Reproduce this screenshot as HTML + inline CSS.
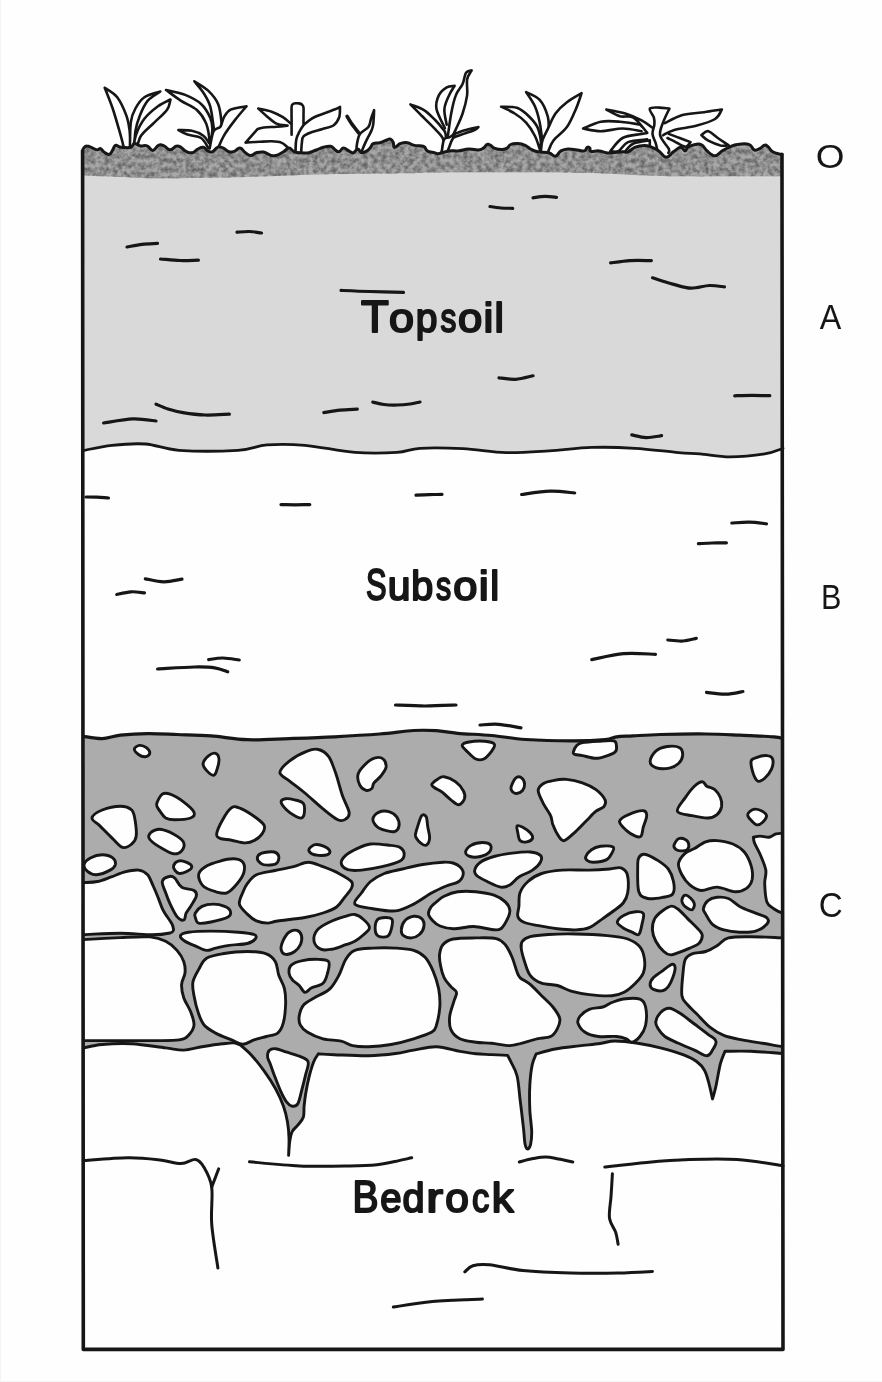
<!DOCTYPE html>
<html><head><meta charset="utf-8"><title>Soil profile</title>
<style>html,body{margin:0;padding:0;background:#fff;}body{width:882px;height:1382px;overflow:hidden;}svg{display:block;}text{font-family:"Liberation Sans",sans-serif;fill:#161616;}.b{font-weight:normal;stroke:#161616;stroke-width:2.0px;stroke-linejoin:round;paint-order:stroke;}</style></head><body>
<svg width="882" height="1382" viewBox="0 0 882 1382">
<defs>
<clipPath id="box"><rect x="83.3" y="100" width="699.7" height="1249.4"/></clipPath>
<filter id="speck" x="0" y="0" width="100%" height="100%" color-interpolation-filters="sRGB"><feTurbulence type="fractalNoise" baseFrequency="0.22" numOctaves="3" seed="11" result="n"/><feColorMatrix in="n" type="matrix" values="0 0 0 0 0  0 0 0 0 0  0 0 0 0 0  1.9 0 0 0 -0.58" result="a"/><feComposite in="SourceGraphic" in2="a" operator="in"/></filter>
<filter id="soft" x="-2%" y="-2%" width="104%" height="104%"><feGaussianBlur stdDeviation="0.7"/></filter>
</defs>
<rect width="882" height="1382" fill="#fefefe"/>
<g filter="url(#soft)">
<path d="M83.3 160L783 160L783 448.3C780 449.2 773.5 452.5 764.7 453.9C755.9 455.3 740.8 456.9 730 456.9C719.2 456.9 708.6 454.6 700 453.9C691.4 453.2 689.3 453.5 678.5 452.6C667.7 451.7 649.4 449.2 635 448.3C620.6 447.4 606.3 447 592 447.4C577.7 447.8 563.3 449.9 549 450.8C534.7 451.7 520.3 453 506 452.6C491.7 452.2 477.3 449.4 463 448.7C448.7 448 431 447.7 420 448.3C409 448.9 407.8 451.7 397 452.4C386.2 453.1 370.3 453.6 355 452.4C339.7 451.2 319.7 446.6 305 445.3C290.3 444.1 278.2 444.1 267 444.9C255.8 445.7 252.5 449.4 237.8 450.3C223.1 451.2 194.4 451.4 179 450.3C163.6 449.2 156.7 444.8 145.5 444C134.3 443.2 122.4 444.2 112 445.3C101.6 446.4 88.1 449.6 83.3 450.5Z" fill="#d9d9d9"/>
<path d="M83.3 450.5C88.1 449.6 101.6 446.4 112 445.3C122.4 444.2 134.3 443.2 145.5 444C156.7 444.8 163.6 449.2 179 450.3C194.4 451.4 223.1 451.2 237.8 450.3C252.5 449.4 255.8 445.7 267 444.9C278.2 444.1 290.3 444.1 305 445.3C319.7 446.6 339.7 451.2 355 452.4C370.3 453.6 386.2 453.1 397 452.4C407.8 451.7 409 448.9 420 448.3C431 447.7 448.7 448 463 448.7C477.3 449.4 491.7 452.2 506 452.6C520.3 453 534.7 451.7 549 450.8C563.3 449.9 577.7 447.8 592 447.4C606.3 447 620.6 447.4 635 448.3C649.4 449.2 667.7 451.7 678.5 452.6C689.3 453.5 691.4 453.2 700 453.9C708.6 454.6 719.2 456.9 730 456.9C740.8 456.9 755.9 455.3 764.7 453.9C773.5 452.5 780 449.2 783 448.3" fill="none" stroke="#161616" stroke-width="2.8" stroke-linecap="round"/>
<g fill="#fefefe" stroke="#161616" stroke-width="2.6" stroke-linejoin="round" stroke-linecap="round">
<path d="M124 148.2C123.3 145.4 121.4 137.8 119.5 131.2C117.6 124.6 115.1 115.8 112.7 108.5C110.2 101.3 106.1 91.2 104.7 87.7C106.8 89.3 113.6 92.6 117.2 97.2C120.8 101.8 124.2 109.7 126.3 115.4C128.4 121 128.9 125.7 129.7 131.2C130.4 136.7 130.6 145.4 130.8 148.2"/>
<path d="M129.9 148.2C130.1 143.9 129.9 128.8 130.8 122.2C131.7 115.5 133.1 112.7 135.4 108.5C137.6 104.4 140.3 100 144.4 97.2C148.6 94.4 157.6 92.5 160.3 91.5C158.2 93.1 151.2 96.6 147.8 100.6C144.4 104.6 142 110.2 139.9 115.4C137.8 120.5 136.2 125.9 135.4 131.2C134.5 136.5 134.8 144.5 134.7 147.1"/>
<path d="M133.1 148.2C133.7 145.8 134.6 138.4 136.5 133.5C138.4 128.6 140.8 123.3 144.4 118.8C148 114.2 153.7 109.5 158 106.3C162.4 103.1 168.4 100.6 170.5 99.5C169.9 101.2 169.9 105.7 167.1 109.7C164.3 113.7 157.8 118.9 153.5 123.3C149.1 127.6 143.8 131.6 141 135.8C138.3 139.9 137.6 146.2 136.9 148.2"/>
<path d="M209.7 148.2C210.2 145 212.4 134.1 212.4 129C212.5 123.9 212.1 121.8 210.2 117.6C208.3 113.5 205.3 107.8 201.1 104C197 100.2 191.1 97.3 185.2 94.9C179.4 92.6 169.2 90.8 166 90C168.4 91.7 175.6 97.3 180.7 100.6C185.8 103.9 192.4 106.1 196.6 109.7C200.7 113.3 203.6 117.8 205.6 122.2C207.7 126.5 208.4 131.4 209 135.8C209.7 140.1 209.6 146.2 209.7 148.2"/>
<path d="M214.3 129C214.1 128.6 214.3 130.5 213.6 126.7C212.9 122.9 211.9 112 210.2 106.3C208.5 100.6 206 96.8 203.4 92.7C200.7 88.5 195.8 83.2 194.3 81.3C196.6 82.8 203.9 86.6 207.9 90.4C211.9 94.2 215.9 98.7 218.1 104C220.4 109.3 221 118 221.5 122.2C222 126.3 221.1 127.8 221.1 129"/>
<path d="M209.7 148.2C210.4 145.4 211.8 134.8 213.6 131.2C215.4 127.6 218.7 129 220.4 126.7C222.1 124.4 222.1 120.5 223.8 117.6C225.5 114.8 226.8 111.6 230.6 109.7C234.4 107.8 243.8 106.8 246.5 106.3C244.6 108.5 238.9 115 235.1 119.9C231.3 124.8 226.6 131 223.8 135.8C221 140.5 219.1 146.2 218.1 148.2"/>
<path d="M209 143C208.1 141.8 206.2 137.8 203.4 135.8C200.5 133.7 196.2 131.7 192 130.8C187.9 129.8 180.7 130.2 178.4 130.1C179.9 130.8 183.7 133.3 187.5 134.6C191.3 135.9 197.6 135.8 201.1 138C204.6 140.3 207.2 146.5 208.4 148.2"/>
<path d="M290.8 123.6C289.5 122.5 286.1 119.2 282.9 117.2C279.7 115.2 275.8 113.2 271.7 111.7C267.6 110.2 260.5 109 258.3 108.5C259.8 109.8 264 113.9 267 116.4C270 118.9 273.1 122.1 276.5 123.6C279.9 125.1 285.8 125.3 287.6 125.6C285.8 125.8 280.5 126.4 276.5 126.7C272.5 127 267 127.1 263.8 127.5C260.6 127.9 258.6 128.8 257.5 129.1L245.6 142.6C247.8 142.5 254.7 142 259 141.8C263.4 141.6 268 141.2 271.7 141.3C275.4 141.4 278.6 141.6 281.3 142.6C284 143.6 285.7 145.8 287.6 147.4C289.5 149 291.7 151.2 292.5 152"/>
<path d="M291.6 134.7C291.6 132.2 291.6 124.6 291.6 120C291.6 115.4 291.4 109.6 291.6 107C291.8 104.4 292 105 292.6 104.4C293.2 103.8 294.4 103.5 295.5 103.3C296.6 103.1 297.9 103.2 299 103.4C300.1 103.6 301.2 103.9 302 104.6C302.8 105.3 303.2 105.6 303.5 107.5C303.8 109.4 303.5 113 303.5 116C303.5 119 303.5 123.7 303.5 125.2C304.8 124.1 308.2 120.7 311.4 118.8C314.6 116.9 318.5 115.6 322.5 114C326.5 112.4 332.3 110.5 335.2 109.3C338.1 108.1 339.2 107.3 340 106.9C339.9 108.6 340.2 114.2 339.2 117.2C338.1 120.2 336.5 123.2 333.7 125.2C330.9 127.2 326.2 127.9 322.5 129.1C318.8 130.3 314.6 131.1 311.4 132.3C308.2 133.5 305.1 134.6 303.5 136.3C301.9 138 302.3 139.8 301.9 142.6C301.5 145.4 301.2 151.3 301.1 153L295.6 153C295.6 152.3 295.5 151.3 295.6 149C295.7 146.7 295.7 142.3 296.3 139.4C296.9 136.5 298.3 133.9 299.5 131.5C300.7 129.1 302.8 126.2 303.5 125.2"/>
<path d="M356.7 150C356.7 149.3 356.4 147.8 356.7 145.8C357 143.8 357.6 140 358.3 137.9C359 135.8 358.9 135 360.6 133.1C362.3 131.2 366.9 129.1 368.6 126.7C370.3 124.3 370.1 121.6 371 118.8C371.9 116 373.6 111.5 374.1 110.1C374 112.3 373.7 120.3 373.3 123.6C372.9 126.9 373 126.7 371.7 129.9C370.4 133.1 367.1 138.9 365.4 142.6C363.7 146.3 362.1 150.4 361.4 152"/>
<path d="M441.7 152C442 150 444.3 143.3 443.3 139.6C442.2 135.8 438.9 133.3 435.4 129.4C431.8 125.4 425.9 119.9 421.7 115.8C417.6 111.6 412.3 106.3 410.4 104.4C412.7 105.4 419.9 107.4 424 110.1C428.2 112.7 432.3 117.3 435.4 120.3C438.4 123.3 440.5 126 442.2 128.2C443.9 130.5 444.8 129.9 445.6 133.9C446.3 137.9 446.5 149 446.7 152"/>
<path d="M444.9 128.2C443.5 125 437.5 114.4 436.5 109C435.5 103.5 437.1 98.9 438.8 95.4C440.5 91.8 444 89 446.7 87.4C449.3 85.8 453.3 86.1 454.6 85.8C453.7 87.4 450.7 91.5 449 95.4C447.3 99.2 444.8 104 444.4 109C444 113.9 446.3 122.2 446.7 124.8"/>
<path d="M447.8 136.2C448.4 132.4 449.9 120.3 451.2 113.5C452.5 106.7 453.9 100.3 455.8 95.4C457.6 90.4 460.9 87.8 462.6 84C464.3 80.2 464.5 74.9 466 72.7C467.5 70.4 470.7 70.8 471.6 70.4C470.9 71.9 467.9 75.3 467.1 79.5C466.3 83.6 467.9 89.7 467.1 95.4C466.3 101 464.5 107.8 462.6 113.5C460.7 119.2 458 124.5 455.8 129.4C453.6 134.3 450.5 140.7 449.4 143"/>
<path d="M453.5 134.4C455.4 133.7 460.7 131.5 464.8 130.3C469 129.1 476.2 127.6 478.4 127.1C477.9 127.6 477.3 128.8 475 129.8C472.8 130.9 468.4 132.2 464.8 133.4C461.2 134.7 455.4 136.8 453.5 137.5"/>
<path d="M441.7 152.5C442.1 150.3 442.7 142.1 444 139.6C445.3 137 447.6 138.2 449.4 137.3C451.2 136.4 454.3 133.6 454.6 134.4C454.9 135.1 452.5 138.8 451.2 141.8C450 144.9 447.8 150.7 447.1 152.5"/>
<path d="M540.1 152C540.2 150.2 541.2 144.9 540.8 140.7C540.3 136.5 539.5 131.3 537.4 127.1C535.3 122.9 531.7 119 528.3 115.8C524.9 112.5 521.5 109.3 517 107.8C512.4 106.3 503.8 106.9 501.1 106.7C503.4 107.8 510.6 110.8 514.7 113.5C518.9 116.1 522.7 118.8 526.1 122.6C529.5 126.3 532.7 131.3 535.1 136.2C537.5 141.1 539.7 149.4 540.6 152"/>
<path d="M542.4 141.8C541.9 138.6 540.9 128.4 539.7 122.6C538.5 116.7 537.4 111.8 535.1 106.7C532.9 101.6 527.6 94.4 526.1 92C528.3 93.3 536.1 95.9 539.7 99.9C543.3 103.9 546.1 110.8 547.6 115.8C549.1 120.7 548.7 125 548.7 129.4C548.7 133.7 547.8 139.8 547.6 141.8"/>
<path d="M540.8 152C541.1 150.2 541.2 144.5 542.4 140.7C543.5 136.9 545.4 133.9 547.6 129.4C549.8 124.8 552.3 118 555.5 113.5C558.7 109 562.5 105.6 566.9 102.2C571.2 98.8 579.2 94.6 581.6 93.1C580.7 95.7 578.4 103.3 575.9 109C573.5 114.6 570.7 121.8 566.9 127.1C563.1 132.4 556.4 136.5 553.3 140.7C550.1 144.9 548.9 150.2 548 152"/>
<path d="M641.6 126.3C641.2 126 642.5 125.2 638.9 124.4C635.3 123.7 626.2 122.2 619.9 121.7C613.5 121.2 606.9 120.6 600.8 121.7C594.7 122.8 586.1 127.4 583.1 128.5C586.1 129 594.2 131.2 600.8 131.2C607.4 131.2 615.8 128.5 622.6 128.5C629.4 128.5 638.5 130.8 641.6 131.2"/>
<path d="M652.5 127.7C650.7 126.5 646.2 122.7 641.6 120.3C637.1 118 631.2 115.4 625.3 113.5C619.4 111.7 609.4 110.1 606.3 109.5C608.5 110.6 615.3 114.9 619.9 116.3C624.4 117.6 628.9 114.9 633.5 117.6C638 120.3 644.8 130.1 647.1 132.6"/>
<path d="M664.8 123.1C667.7 121.7 675.9 116.7 682.4 114.9C689 113.1 697.6 113.1 704.2 112.2C710.8 111.3 719 109.9 721.9 109.5C720.8 111 719.4 116.3 715.1 119C710.8 121.7 702.9 124 696.1 125.8C689.3 127.6 679.8 128.3 674.3 129.9C668.8 131.5 664.8 134.4 662.9 135.3"/>
<path d="M647.1 133.1C646.2 133.3 645.7 133.1 641.6 133.9C637.6 134.8 627.8 135.2 622.6 138C617.4 140.9 612.4 148.9 610.3 151.1C611.7 151.1 615.6 152.6 618.5 151.1C621.5 149.6 623.3 144.1 628 142.1C632.8 140.2 643.9 139.8 647.1 139.4"/>
<path d="M625.3 151.1C626.7 149.8 629.4 145.3 633.5 143.5C637.6 141.7 647.1 140.7 649.8 140.2L649.8 151.1"/>
<path d="M668.8 133.9C670.7 134.6 676.1 136.7 679.7 138C683.4 139.4 688.8 141.4 690.6 142.1C689.7 142.9 687.9 146.9 685.2 146.7C682.4 146.6 677.2 142.7 674.3 141.3C671.3 139.8 668.6 138.6 667.5 138"/>
<path d="M701.5 134.8C702.6 134.2 705.6 130.7 708.3 131.2C711 131.8 714.4 135.7 717.8 138C721.2 140.4 726.9 144.1 728.7 145.4C727.3 145.4 723.9 146.1 720.5 145.4C717.1 144.6 711.5 142.4 708.3 140.7C705.1 139.1 702.6 136.2 701.5 135.3"/>
<path d="M658 153C657.6 151.4 656.7 146.6 655.8 143.5C654.9 140.3 652.7 137.1 652.5 133.9C652.3 130.8 654.2 127.1 654.4 124.4C654.6 121.7 654.6 120.2 653.9 117.6C653.1 115 648.9 110.3 649.8 108.6C650.7 107 656.1 107.6 659.3 107.6C662.6 107.6 667.7 108.5 669.4 108.6C668.4 110.8 664.9 117.3 663.4 121.7C661.9 126.1 659.2 130.8 660.1 135.3C661 139.8 667.5 146 668.8 148.9C670.2 151.9 668.4 152.3 668.3 153"/>
<path d="M347.1 116.4C347.8 117.6 349.6 120.8 351.5 123.5C353.4 126.2 357.4 131.2 358.6 132.8" fill="none" stroke-width="3.6"/>
</g>
<path d="M82.6 150.5C82.9 149.9 82.8 149 83.8 147.9C84.9 146.8 84.9 145.8 87 145.9C89.1 145.9 90.3 147.2 92.7 148.1C95.1 149.1 95.4 149.7 97.2 149.8C99.1 150 99 148.2 100.6 148.7C102.2 149.2 102 150.8 104 152.1C106 153.4 107.1 154.8 109.1 154.4C111.1 154 111.1 152.5 112.5 150.4C114 148.3 113.6 146.1 115.4 145.3C117.1 144.5 117.5 146.5 119.9 147C122.3 147.5 122.9 147.6 125.6 147.6C128.2 147.6 129.1 147.9 131.2 147C133.3 146.1 132.5 143.9 134.6 143.6C136.7 143.3 137.4 145.3 140.3 145.9C143.2 146.4 144.2 144.8 147.1 145.9C150 146.9 150.1 150.5 152.8 150.4C155.4 150.3 155.8 146.4 158.4 145.3C161.1 144.2 161.4 144.8 164.1 145.9C166.8 146.9 167.2 149.7 170 149.8C172.8 149.9 173.6 146.9 176.1 146.3C178.6 145.7 178.4 146 180.7 147.2C183 148.4 183.3 150.1 186.1 151.4C188.9 152.7 189.7 153.3 192.5 152.7C195.3 152.1 195.4 150.3 197.9 149C200.4 147.7 201.1 146.8 203.4 147.2C205.7 147.6 205.8 149.8 207.9 150.9C210 152 210.1 152.7 212.4 151.8C214.7 150.9 215.4 148.1 217.9 147.2C220.4 146.3 220.8 147 223.3 148.1C225.8 149.2 226.3 151 228.8 151.8C231.3 152.6 231.6 152.3 234.2 151.4C236.8 150.5 237.4 147.8 240 148.1C242.6 148.4 242.9 151 245.4 152.7C247.9 154.4 248.4 155.4 250.9 155.4C253.4 155.4 253.3 153.5 256.3 152.7C259.3 151.9 260.2 151.5 263.6 152.1C267 152.7 267.8 154.6 270.8 155.4C273.8 156.2 273.3 156.2 276.3 155.4C279.3 154.6 280.5 153.5 283.5 151.8C286.5 150.1 286.5 148.1 289 148.1C291.5 148.1 291.4 150.7 294.4 151.8C297.4 152.9 298.3 152.5 301.7 152.7C305.1 152.9 305.5 153.3 308.9 152.7C312.3 152.1 312.8 151.3 316.2 150C319.6 148.7 320 148.1 323.4 147.2C326.8 146.3 328.2 145.9 330.7 146.3C333.2 146.7 332.4 147.7 334.3 149C336.2 150.3 336.8 152 338.9 151.8C341 151.6 341.1 148.3 343.4 148.1C345.7 147.9 346.5 149.8 348.8 150.9C351.1 152 351.3 153.1 353.4 152.7C355.5 152.3 356 149 357.9 149C359.8 149 359.4 152.3 361.5 152.7C363.6 153.1 364.9 152.2 367 150.9C369.1 149.6 369.1 148.9 370.6 147.2C372.1 145.5 371.2 144.7 373.3 143.6C375.4 142.5 376.5 143.5 379.7 142.7C382.9 141.9 384.4 140.8 386.9 140C389.4 139.2 389.1 138.5 390.6 139.1C392.1 139.7 392.5 140.8 393.3 142.7C394.1 144.6 393.1 146.6 394.2 147.2C395.2 147.8 396.4 146.2 397.8 145.4C399.2 144.6 397.8 144.2 400 143.6C402.2 143 403.9 142.3 407.3 142.7C410.7 143.1 410.7 144.6 414.5 145.4C418.3 146.2 420.6 145 423.6 146.3C426.6 147.6 424.7 149.4 427.2 150.9C429.7 152.4 431.7 152.1 434.5 152.7C437.3 153.3 435.6 154 439 153.6C442.4 153.2 444.6 151.5 449 150.9C453.4 150.3 453.4 151.3 458 150.9C462.6 150.5 464.2 149.2 468.9 149C473.6 148.8 474.6 150.2 478 150C481.4 149.8 481.3 149.4 483.4 148.1C485.5 146.8 485.4 145.1 487.1 144.5C488.8 143.9 489 144.6 490.7 145.4C492.4 146.2 491.8 147.1 494.3 148.1C496.8 149.1 498.6 149.6 501.6 149.6C504.6 149.6 504.9 149.3 507 148.1C509.1 146.9 508.2 145.6 510.7 144.5C513.2 143.4 514.5 143.4 517.9 143.6C521.3 143.8 522.2 144.1 525.2 145.4C528.2 146.7 527.6 147.5 530.6 149C533.6 150.5 533.7 150.9 537.9 151.8C542.1 152.7 544.7 151.6 548.8 152.7C552.9 153.8 552.6 156.7 555.4 156.3C558.2 155.9 557.9 152.6 560.9 150.9C563.9 149.2 564.3 149.2 568.1 149C571.9 148.8 573.4 149.6 577.2 150C581 150.4 582.2 151.6 584.5 150.9C586.8 150.2 585.9 147.9 587.2 147.2C588.5 146.5 589.1 147.1 589.9 148.1C590.7 149.1 588.7 150.7 590.8 151.4C592.9 152.1 595.4 150.6 599 150.9C602.6 151.2 603.2 152.3 606.2 152.7C609.2 153.1 607.9 152.9 611.7 152.7C615.5 152.5 618.8 152 622.6 151.8C626.4 151.6 625 152.9 628 151.8C631 150.7 631.5 148.7 635.3 147.2C639.1 145.7 640.5 145.4 644.3 145.4C648.1 145.4 648.2 145.9 651.6 147.2C655 148.5 655.4 148.6 658.8 150.9C662.2 153.2 662.7 157 666.1 157.2C669.5 157.4 670 154.1 673.4 151.8C676.8 149.5 677.9 147.4 680.6 147.2C683.3 147 683.4 150.9 685.1 150.9C686.8 150.9 685.6 148.7 687.9 147.2C690.2 145.7 691.9 145.1 695.1 144.5C698.3 143.9 698.8 143.4 701.5 144.8C704.2 146.2 704.2 148.2 706.8 150.6C709.4 153 710.1 154 712.5 155.1C714.9 156.2 714.6 156.2 717 155.1C719.4 154 719.5 152.6 722.7 150.6C725.9 148.6 727.2 148 730.6 146.6C734 145.2 733.2 144.9 737.4 144.4C741.6 143.9 744.8 143.1 748.8 144.4C752.8 145.7 751.8 149.1 754.4 150C757 150.9 757.7 149.4 760.1 148.3C762.5 147.2 762.8 145.6 764.6 145.2C766.4 144.8 766.1 145.1 768 146.6C769.9 148.1 769.9 150 772.6 151.7C775.3 153.4 777.2 153.5 779.4 154C781.6 154.5 781.4 154 782 154L783 176.3C778.5 176.3 774 176.3 756 176.3C738 176.3 695.3 176.5 675 176.3C654.7 176.1 647.7 175.6 634 175C620.3 174.4 613.3 173.5 593 173C572.7 172.5 539.2 172.3 512 172.2C484.8 172.1 447.7 172.2 430 172.4C412.3 172.6 423.5 173 406 173.3C388.5 173.6 351.8 173.7 325 174.3C298.2 174.9 272.5 176.3 245 177C217.5 177.7 180.8 178.3 160 178.3C139.2 178.3 132.8 177.5 120 177C107.2 176.5 89.4 175.8 83.3 175.5Z" fill="#a8a8a8"/>
<path d="M82.6 150.5C82.9 149.9 82.8 149 83.8 147.9C84.9 146.8 84.9 145.8 87 145.9C89.1 145.9 90.3 147.2 92.7 148.1C95.1 149.1 95.4 149.7 97.2 149.8C99.1 150 99 148.2 100.6 148.7C102.2 149.2 102 150.8 104 152.1C106 153.4 107.1 154.8 109.1 154.4C111.1 154 111.1 152.5 112.5 150.4C114 148.3 113.6 146.1 115.4 145.3C117.1 144.5 117.5 146.5 119.9 147C122.3 147.5 122.9 147.6 125.6 147.6C128.2 147.6 129.1 147.9 131.2 147C133.3 146.1 132.5 143.9 134.6 143.6C136.7 143.3 137.4 145.3 140.3 145.9C143.2 146.4 144.2 144.8 147.1 145.9C150 146.9 150.1 150.5 152.8 150.4C155.4 150.3 155.8 146.4 158.4 145.3C161.1 144.2 161.4 144.8 164.1 145.9C166.8 146.9 167.2 149.7 170 149.8C172.8 149.9 173.6 146.9 176.1 146.3C178.6 145.7 178.4 146 180.7 147.2C183 148.4 183.3 150.1 186.1 151.4C188.9 152.7 189.7 153.3 192.5 152.7C195.3 152.1 195.4 150.3 197.9 149C200.4 147.7 201.1 146.8 203.4 147.2C205.7 147.6 205.8 149.8 207.9 150.9C210 152 210.1 152.7 212.4 151.8C214.7 150.9 215.4 148.1 217.9 147.2C220.4 146.3 220.8 147 223.3 148.1C225.8 149.2 226.3 151 228.8 151.8C231.3 152.6 231.6 152.3 234.2 151.4C236.8 150.5 237.4 147.8 240 148.1C242.6 148.4 242.9 151 245.4 152.7C247.9 154.4 248.4 155.4 250.9 155.4C253.4 155.4 253.3 153.5 256.3 152.7C259.3 151.9 260.2 151.5 263.6 152.1C267 152.7 267.8 154.6 270.8 155.4C273.8 156.2 273.3 156.2 276.3 155.4C279.3 154.6 280.5 153.5 283.5 151.8C286.5 150.1 286.5 148.1 289 148.1C291.5 148.1 291.4 150.7 294.4 151.8C297.4 152.9 298.3 152.5 301.7 152.7C305.1 152.9 305.5 153.3 308.9 152.7C312.3 152.1 312.8 151.3 316.2 150C319.6 148.7 320 148.1 323.4 147.2C326.8 146.3 328.2 145.9 330.7 146.3C333.2 146.7 332.4 147.7 334.3 149C336.2 150.3 336.8 152 338.9 151.8C341 151.6 341.1 148.3 343.4 148.1C345.7 147.9 346.5 149.8 348.8 150.9C351.1 152 351.3 153.1 353.4 152.7C355.5 152.3 356 149 357.9 149C359.8 149 359.4 152.3 361.5 152.7C363.6 153.1 364.9 152.2 367 150.9C369.1 149.6 369.1 148.9 370.6 147.2C372.1 145.5 371.2 144.7 373.3 143.6C375.4 142.5 376.5 143.5 379.7 142.7C382.9 141.9 384.4 140.8 386.9 140C389.4 139.2 389.1 138.5 390.6 139.1C392.1 139.7 392.5 140.8 393.3 142.7C394.1 144.6 393.1 146.6 394.2 147.2C395.2 147.8 396.4 146.2 397.8 145.4C399.2 144.6 397.8 144.2 400 143.6C402.2 143 403.9 142.3 407.3 142.7C410.7 143.1 410.7 144.6 414.5 145.4C418.3 146.2 420.6 145 423.6 146.3C426.6 147.6 424.7 149.4 427.2 150.9C429.7 152.4 431.7 152.1 434.5 152.7C437.3 153.3 435.6 154 439 153.6C442.4 153.2 444.6 151.5 449 150.9C453.4 150.3 453.4 151.3 458 150.9C462.6 150.5 464.2 149.2 468.9 149C473.6 148.8 474.6 150.2 478 150C481.4 149.8 481.3 149.4 483.4 148.1C485.5 146.8 485.4 145.1 487.1 144.5C488.8 143.9 489 144.6 490.7 145.4C492.4 146.2 491.8 147.1 494.3 148.1C496.8 149.1 498.6 149.6 501.6 149.6C504.6 149.6 504.9 149.3 507 148.1C509.1 146.9 508.2 145.6 510.7 144.5C513.2 143.4 514.5 143.4 517.9 143.6C521.3 143.8 522.2 144.1 525.2 145.4C528.2 146.7 527.6 147.5 530.6 149C533.6 150.5 533.7 150.9 537.9 151.8C542.1 152.7 544.7 151.6 548.8 152.7C552.9 153.8 552.6 156.7 555.4 156.3C558.2 155.9 557.9 152.6 560.9 150.9C563.9 149.2 564.3 149.2 568.1 149C571.9 148.8 573.4 149.6 577.2 150C581 150.4 582.2 151.6 584.5 150.9C586.8 150.2 585.9 147.9 587.2 147.2C588.5 146.5 589.1 147.1 589.9 148.1C590.7 149.1 588.7 150.7 590.8 151.4C592.9 152.1 595.4 150.6 599 150.9C602.6 151.2 603.2 152.3 606.2 152.7C609.2 153.1 607.9 152.9 611.7 152.7C615.5 152.5 618.8 152 622.6 151.8C626.4 151.6 625 152.9 628 151.8C631 150.7 631.5 148.7 635.3 147.2C639.1 145.7 640.5 145.4 644.3 145.4C648.1 145.4 648.2 145.9 651.6 147.2C655 148.5 655.4 148.6 658.8 150.9C662.2 153.2 662.7 157 666.1 157.2C669.5 157.4 670 154.1 673.4 151.8C676.8 149.5 677.9 147.4 680.6 147.2C683.3 147 683.4 150.9 685.1 150.9C686.8 150.9 685.6 148.7 687.9 147.2C690.2 145.7 691.9 145.1 695.1 144.5C698.3 143.9 698.8 143.4 701.5 144.8C704.2 146.2 704.2 148.2 706.8 150.6C709.4 153 710.1 154 712.5 155.1C714.9 156.2 714.6 156.2 717 155.1C719.4 154 719.5 152.6 722.7 150.6C725.9 148.6 727.2 148 730.6 146.6C734 145.2 733.2 144.9 737.4 144.4C741.6 143.9 744.8 143.1 748.8 144.4C752.8 145.7 751.8 149.1 754.4 150C757 150.9 757.7 149.4 760.1 148.3C762.5 147.2 762.8 145.6 764.6 145.2C766.4 144.8 766.1 145.1 768 146.6C769.9 148.1 769.9 150 772.6 151.7C775.3 153.4 777.2 153.5 779.4 154C781.6 154.5 781.4 154 782 154L783 176.3C778.5 176.3 774 176.3 756 176.3C738 176.3 695.3 176.5 675 176.3C654.7 176.1 647.7 175.6 634 175C620.3 174.4 613.3 173.5 593 173C572.7 172.5 539.2 172.3 512 172.2C484.8 172.1 447.7 172.2 430 172.4C412.3 172.6 423.5 173 406 173.3C388.5 173.6 351.8 173.7 325 174.3C298.2 174.9 272.5 176.3 245 177C217.5 177.7 180.8 178.3 160 178.3C139.2 178.3 132.8 177.5 120 177C107.2 176.5 89.4 175.8 83.3 175.5Z" fill="#626262" filter="url(#speck)"/>
<path d="M82.6 150.5C82.9 149.9 82.8 149 83.8 147.9C84.9 146.8 84.9 145.8 87 145.9C89.1 145.9 90.3 147.2 92.7 148.1C95.1 149.1 95.4 149.7 97.2 149.8C99.1 150 99 148.2 100.6 148.7C102.2 149.2 102 150.8 104 152.1C106 153.4 107.1 154.8 109.1 154.4C111.1 154 111.1 152.5 112.5 150.4C114 148.3 113.6 146.1 115.4 145.3C117.1 144.5 117.5 146.5 119.9 147C122.3 147.5 122.9 147.6 125.6 147.6C128.2 147.6 129.1 147.9 131.2 147C133.3 146.1 132.5 143.9 134.6 143.6C136.7 143.3 137.4 145.3 140.3 145.9C143.2 146.4 144.2 144.8 147.1 145.9C150 146.9 150.1 150.5 152.8 150.4C155.4 150.3 155.8 146.4 158.4 145.3C161.1 144.2 161.4 144.8 164.1 145.9C166.8 146.9 167.2 149.7 170 149.8C172.8 149.9 173.6 146.9 176.1 146.3C178.6 145.7 178.4 146 180.7 147.2C183 148.4 183.3 150.1 186.1 151.4C188.9 152.7 189.7 153.3 192.5 152.7C195.3 152.1 195.4 150.3 197.9 149C200.4 147.7 201.1 146.8 203.4 147.2C205.7 147.6 205.8 149.8 207.9 150.9C210 152 210.1 152.7 212.4 151.8C214.7 150.9 215.4 148.1 217.9 147.2C220.4 146.3 220.8 147 223.3 148.1C225.8 149.2 226.3 151 228.8 151.8C231.3 152.6 231.6 152.3 234.2 151.4C236.8 150.5 237.4 147.8 240 148.1C242.6 148.4 242.9 151 245.4 152.7C247.9 154.4 248.4 155.4 250.9 155.4C253.4 155.4 253.3 153.5 256.3 152.7C259.3 151.9 260.2 151.5 263.6 152.1C267 152.7 267.8 154.6 270.8 155.4C273.8 156.2 273.3 156.2 276.3 155.4C279.3 154.6 280.5 153.5 283.5 151.8C286.5 150.1 286.5 148.1 289 148.1C291.5 148.1 291.4 150.7 294.4 151.8C297.4 152.9 298.3 152.5 301.7 152.7C305.1 152.9 305.5 153.3 308.9 152.7C312.3 152.1 312.8 151.3 316.2 150C319.6 148.7 320 148.1 323.4 147.2C326.8 146.3 328.2 145.9 330.7 146.3C333.2 146.7 332.4 147.7 334.3 149C336.2 150.3 336.8 152 338.9 151.8C341 151.6 341.1 148.3 343.4 148.1C345.7 147.9 346.5 149.8 348.8 150.9C351.1 152 351.3 153.1 353.4 152.7C355.5 152.3 356 149 357.9 149C359.8 149 359.4 152.3 361.5 152.7C363.6 153.1 364.9 152.2 367 150.9C369.1 149.6 369.1 148.9 370.6 147.2C372.1 145.5 371.2 144.7 373.3 143.6C375.4 142.5 376.5 143.5 379.7 142.7C382.9 141.9 384.4 140.8 386.9 140C389.4 139.2 389.1 138.5 390.6 139.1C392.1 139.7 392.5 140.8 393.3 142.7C394.1 144.6 393.1 146.6 394.2 147.2C395.2 147.8 396.4 146.2 397.8 145.4C399.2 144.6 397.8 144.2 400 143.6C402.2 143 403.9 142.3 407.3 142.7C410.7 143.1 410.7 144.6 414.5 145.4C418.3 146.2 420.6 145 423.6 146.3C426.6 147.6 424.7 149.4 427.2 150.9C429.7 152.4 431.7 152.1 434.5 152.7C437.3 153.3 435.6 154 439 153.6C442.4 153.2 444.6 151.5 449 150.9C453.4 150.3 453.4 151.3 458 150.9C462.6 150.5 464.2 149.2 468.9 149C473.6 148.8 474.6 150.2 478 150C481.4 149.8 481.3 149.4 483.4 148.1C485.5 146.8 485.4 145.1 487.1 144.5C488.8 143.9 489 144.6 490.7 145.4C492.4 146.2 491.8 147.1 494.3 148.1C496.8 149.1 498.6 149.6 501.6 149.6C504.6 149.6 504.9 149.3 507 148.1C509.1 146.9 508.2 145.6 510.7 144.5C513.2 143.4 514.5 143.4 517.9 143.6C521.3 143.8 522.2 144.1 525.2 145.4C528.2 146.7 527.6 147.5 530.6 149C533.6 150.5 533.7 150.9 537.9 151.8C542.1 152.7 544.7 151.6 548.8 152.7C552.9 153.8 552.6 156.7 555.4 156.3C558.2 155.9 557.9 152.6 560.9 150.9C563.9 149.2 564.3 149.2 568.1 149C571.9 148.8 573.4 149.6 577.2 150C581 150.4 582.2 151.6 584.5 150.9C586.8 150.2 585.9 147.9 587.2 147.2C588.5 146.5 589.1 147.1 589.9 148.1C590.7 149.1 588.7 150.7 590.8 151.4C592.9 152.1 595.4 150.6 599 150.9C602.6 151.2 603.2 152.3 606.2 152.7C609.2 153.1 607.9 152.9 611.7 152.7C615.5 152.5 618.8 152 622.6 151.8C626.4 151.6 625 152.9 628 151.8C631 150.7 631.5 148.7 635.3 147.2C639.1 145.7 640.5 145.4 644.3 145.4C648.1 145.4 648.2 145.9 651.6 147.2C655 148.5 655.4 148.6 658.8 150.9C662.2 153.2 662.7 157 666.1 157.2C669.5 157.4 670 154.1 673.4 151.8C676.8 149.5 677.9 147.4 680.6 147.2C683.3 147 683.4 150.9 685.1 150.9C686.8 150.9 685.6 148.7 687.9 147.2C690.2 145.7 691.9 145.1 695.1 144.5C698.3 143.9 698.8 143.4 701.5 144.8C704.2 146.2 704.2 148.2 706.8 150.6C709.4 153 710.1 154 712.5 155.1C714.9 156.2 714.6 156.2 717 155.1C719.4 154 719.5 152.6 722.7 150.6C725.9 148.6 727.2 148 730.6 146.6C734 145.2 733.2 144.9 737.4 144.4C741.6 143.9 744.8 143.1 748.8 144.4C752.8 145.7 751.8 149.1 754.4 150C757 150.9 757.7 149.4 760.1 148.3C762.5 147.2 762.8 145.6 764.6 145.2C766.4 144.8 766.1 145.1 768 146.6C769.9 148.1 769.9 150 772.6 151.7C775.3 153.4 777.2 153.5 779.4 154C781.6 154.5 781.4 154 782 154" fill="none" stroke="#161616" stroke-width="3.0" stroke-linejoin="round" stroke-linecap="round"/>
<g fill="none" stroke="#161616" stroke-width="3.2" stroke-linecap="round">
<path d="M490 206.5C491.8 206.8 497.2 207.7 501 208C504.8 208.3 510.8 208.2 512.7 208.3"/>
<path d="M533 197.8C535 197.6 541.1 196.5 545 196.4C548.9 196.3 554.6 197.2 556.5 197.4"/>
<path d="M127 247C129.5 246.6 136.9 244.9 142 244.3C147.1 243.7 154.9 243.6 157.5 243.4"/>
<path d="M237 232.2C239 232.1 244.9 231.4 249 231.5C253.1 231.6 259.4 232.8 261.5 233"/>
<path d="M160.5 259C163.8 259.2 173.7 260.3 180 260.5C186.3 260.7 195.3 260.2 198.4 260.2"/>
<path d="M610.6 262.9C613.8 262.5 623.2 261 630 260.6C636.8 260.2 647.8 260.6 651.4 260.6"/>
<path d="M652.5 277.8C655.9 278.9 666.3 282.4 672.7 284.1C679.1 285.8 684.9 288 691 288.2C697.1 288.4 703.8 285.7 709.4 285.5C715 285.3 722 286.7 724.5 286.9"/>
<path d="M341 290.4C345.8 290.6 359.6 291.2 370 291.5C380.4 291.8 397.9 292.2 403.5 292.4"/>
<path d="M499 377.8C501.8 378.1 509.8 379.6 515.5 379.3C521.2 379 530.1 376.4 533 375.8"/>
<path d="M734.7 395.8C737.6 395.7 746.1 395.3 752 395.3C757.9 395.3 766.8 395.6 769.8 395.7"/>
<path d="M156 404.2C158 405 163.5 407.6 168 409C172.5 410.4 176.8 411.6 183 412.6C189.2 413.6 197.3 414.7 205 415C212.7 415.3 225.3 414.3 229.4 414.2"/>
<path d="M103.6 423C108.5 422.3 124.3 419.2 133 418.9C141.7 418.6 152.2 420.6 156 421"/>
<path d="M323.8 412.6C326.5 412.2 334.4 410.8 340 410.2C345.6 409.6 354.4 409.4 357.3 409.2"/>
<path d="M372.8 402.1C374.7 402.5 380 404 384 404.5C388 405 392.7 405.1 397 405C401.3 404.9 406.2 404.5 410 404C413.8 403.5 418.3 402.3 420 402"/>
<path d="M631.8 434.9C634.2 435.3 641.1 437.5 646.1 437.6C651.1 437.7 659 436 661.6 435.7"/>
<path d="M86 497C87.8 497 93.2 497 97 497.2C100.8 497.4 106.6 497.9 108.5 498"/>
<path d="M281 504.6C283.3 504.6 290.2 504.8 295 504.8C299.8 504.8 307.3 504.6 309.8 504.6"/>
<path d="M416 495.2C418.2 495.1 424.7 494.8 429 494.6C433.3 494.5 439.8 494.4 442 494.3"/>
<path d="M521.6 494.5C526.3 493.9 541.1 491.4 550 491.2C558.9 490.9 570.6 492.7 574.7 493"/>
<path d="M731.8 523C734.7 522.9 743.2 522.1 749 522.2C754.8 522.3 763.6 523.5 766.5 523.8"/>
<path d="M698.4 543.7C700.7 543.6 707.3 543.1 712 543C716.7 542.9 724 542.8 726.4 542.8"/>
<path d="M116.7 594.5C119.1 594 126.4 592.1 131 591.8C135.6 591.5 142.2 592.7 144.5 592.9"/>
<path d="M145.3 578.8C148.4 579.3 157.6 581.7 163.7 581.8C169.8 581.9 178.9 579.6 182 579.2"/>
<path d="M667.8 640C670.3 640.2 678.1 641.3 682.9 641C687.6 640.7 694.1 638.8 696.3 638.4"/>
<path d="M591.8 659.6C597.1 658.6 613.1 654.6 623.7 653.7C634.3 652.8 650.2 654.2 655.5 654.3"/>
<path d="M208.6 659.6C211 659.3 217.8 657.9 222.9 658C228 658.1 236.5 659.7 239.2 660"/>
<path d="M157.6 669C163.7 668.7 184.8 667.2 194.3 667C203.8 666.8 209.1 667 214.7 667.8C220.3 668.6 225.6 671.1 227.8 671.8"/>
<path d="M706.5 692.4C709.7 692.7 719.6 694.4 725.7 694.2C731.8 694.1 740 692 742.9 691.5"/>
<path d="M395.5 705C400.4 705.2 414.9 706 425 706C435.1 706 450.8 705.2 456 705"/>
<path d="M480 725C483.1 724.9 491.6 723.8 498.4 724.3C505.2 724.8 517.2 727.2 521 727.8"/>
</g>
<g clip-path="url(#box)">
<path d="M83.3 736.3C86.5 736.7 96 738.8 102.2 738.6C108.4 738.4 112.8 736 120.4 735.2C128 734.4 138.2 733.7 147.6 733.6C157 733.5 166.4 734.1 177 734.5C187.6 734.9 199.3 735 211 735.9C222.7 736.8 234.3 739.2 247.3 739.7C260.3 740.2 274.5 739.1 289 738.6C303.5 738.1 319.3 737.6 334.4 736.8C349.5 736 366.5 735 379.7 734C392.9 733 404.2 731 413.7 730.5C423.1 730 429.1 730.2 436.4 730.7C443.7 731.2 448.5 732.5 457.7 733.3C466.9 734.1 480.4 734.5 491.7 735.5C503 736.5 512.5 738.6 525.7 739.5C538.9 740.4 557.9 740.9 571.1 740.9C584.3 740.9 597.6 740.4 605.1 739.7C612.6 739 611.7 737.4 616.4 736.8C621.1 736.2 625.8 736.3 633.1 735.9C640.4 735.5 648.3 734.8 660.4 734.5C672.5 734.2 692.5 733.9 705.7 734C718.9 734.1 728.4 734.7 739.7 735.2C751 735.7 766.5 736.2 773.7 736.8C780.9 737.4 781.5 738.3 783 738.6L783 1053.5C777.7 1053.1 760.7 1051.7 751 1051.3C741.3 1050.9 729.3 1051.3 725 1051.3C724.2 1053.4 721.9 1057.8 720.4 1063.7C718.9 1069.6 717.2 1080.5 715.9 1086.4C714.6 1092.3 713.1 1096.8 712.5 1098.9C711.9 1096.4 710.4 1088.8 709.1 1084.1C707.8 1079.4 706.7 1074.3 704.6 1070.5C702.5 1066.7 700.2 1064.1 696.6 1061.5C693 1058.9 689 1057 683 1054.7C677 1052.4 667.9 1049.8 660.4 1047.9C652.9 1046 645.3 1044.5 637.7 1043.3C630.1 1042.1 621.3 1041 615 1041C608.7 1041 606 1042.7 600 1043.5C594 1044.3 586.5 1045 579 1045.9C571.5 1046.8 562.3 1047.7 555.2 1049C548.1 1050.3 539.4 1053 536.2 1053.8C535.5 1055.7 533.3 1059.6 532.2 1064.9C531.1 1070.2 530.2 1078.2 529.8 1085.6C529.4 1093 529.5 1101.7 529.8 1109.4C530.1 1117.1 531.6 1125.8 531.7 1131.6C531.8 1137.4 531.3 1141.4 530.6 1144.3C529.9 1147.2 528.4 1149 527.5 1149C526.6 1149 525.8 1147.7 525.1 1144.3C524.4 1140.9 524.3 1135.6 523.5 1128.4C522.7 1121.2 521.4 1110.1 520.3 1101.4C519.2 1092.7 518.7 1082.6 517.1 1076C515.5 1069.4 512.4 1065.1 510.8 1061.7C509.2 1058.3 508.1 1056.5 507.6 1055.4C505 1055.3 497 1054.9 491.7 1054.6C486.4 1054.3 481.2 1054.3 475.9 1053.8C470.6 1053.3 466.6 1052.6 460 1051.4C453.4 1050.2 444.1 1046.9 436.4 1046.7C428.7 1046.5 420.5 1049 413.7 1050.1C406.9 1051.2 403.2 1052.5 395.6 1053.5C388.1 1054.5 378.6 1055.6 368.4 1055.8C358.2 1056 342.7 1055 334.4 1054.7C326.1 1054.4 321.1 1054 318.4 1053.8C317.6 1055.1 315.3 1057.7 313.7 1061.7C312.1 1065.7 310.2 1072.3 308.9 1077.6C307.6 1082.9 306.5 1088.7 305.7 1093.5C304.9 1098.3 304.5 1102.2 304.1 1106.2C303.7 1110.2 304.4 1114.1 303.3 1117.3C302.2 1120.5 299.7 1122.8 297.8 1125.2C295.9 1127.6 293.5 1128.9 292.2 1131.6C290.9 1134.2 290.4 1137.1 289.8 1141.1C289.2 1145.1 288.8 1153 288.6 1155.4C288.7 1152.5 289.2 1143.5 289 1137.9C288.8 1132.4 288.4 1127.4 287.5 1122.1C286.6 1116.8 285.5 1111.8 283.5 1106.2C281.5 1100.6 278.8 1094.5 275.6 1088.7C272.4 1082.9 268.4 1076.8 264.4 1071.3C260.4 1065.8 255.7 1059.8 251.7 1055.4C247.7 1051 242.4 1046.8 240.6 1045.1C239.4 1044.7 236.7 1043.1 233.7 1042.9C230.7 1042.7 227.7 1043.2 222.4 1043.8C217.1 1044.4 208.4 1045.7 202 1046.7C195.6 1047.8 189.9 1049.9 183.8 1050.1C177.8 1050.3 174.4 1049 165.7 1047.9C157 1046.9 142.3 1044.4 131.7 1043.8C121.1 1043.2 110.3 1043.8 102.2 1044.5C94.1 1045.2 86.5 1047.3 83.3 1047.9Z" fill="#acacac"/>
<path d="M83.3 736.3C86.5 736.7 96 738.8 102.2 738.6C108.4 738.4 112.8 736 120.4 735.2C128 734.4 138.2 733.7 147.6 733.6C157 733.5 166.4 734.1 177 734.5C187.6 734.9 199.3 735 211 735.9C222.7 736.8 234.3 739.2 247.3 739.7C260.3 740.2 274.5 739.1 289 738.6C303.5 738.1 319.3 737.6 334.4 736.8C349.5 736 366.5 735 379.7 734C392.9 733 404.2 731 413.7 730.5C423.1 730 429.1 730.2 436.4 730.7C443.7 731.2 448.5 732.5 457.7 733.3C466.9 734.1 480.4 734.5 491.7 735.5C503 736.5 512.5 738.6 525.7 739.5C538.9 740.4 557.9 740.9 571.1 740.9C584.3 740.9 597.6 740.4 605.1 739.7C612.6 739 611.7 737.4 616.4 736.8C621.1 736.2 625.8 736.3 633.1 735.9C640.4 735.5 648.3 734.8 660.4 734.5C672.5 734.2 692.5 733.9 705.7 734C718.9 734.1 728.4 734.7 739.7 735.2C751 735.7 766.5 736.2 773.7 736.8C780.9 737.4 781.5 738.3 783 738.6" fill="none" stroke="#161616" stroke-width="3.2" stroke-linejoin="round"/>
<path d="M83.3 1047.9C86.5 1047.3 94.1 1045.2 102.2 1044.5C110.3 1043.8 121.1 1043.2 131.7 1043.8C142.3 1044.4 157 1046.9 165.7 1047.9C174.4 1049 177.8 1050.3 183.8 1050.1C189.9 1049.9 195.6 1047.8 202 1046.7C208.4 1045.7 217.1 1044.4 222.4 1043.8C227.7 1043.2 230.7 1042.7 233.7 1042.9C236.7 1043.1 239.4 1044.7 240.6 1045.1C242.4 1046.8 247.7 1051 251.7 1055.4C255.7 1059.8 260.4 1065.8 264.4 1071.3C268.4 1076.8 272.4 1082.9 275.6 1088.7C278.8 1094.5 281.5 1100.6 283.5 1106.2C285.5 1111.8 286.6 1116.8 287.5 1122.1C288.4 1127.4 288.8 1132.4 289 1137.9C289.2 1143.5 288.7 1152.5 288.6 1155.4C288.8 1153 289.2 1145.1 289.8 1141.1C290.4 1137.1 290.9 1134.2 292.2 1131.6C293.5 1128.9 295.9 1127.6 297.8 1125.2C299.7 1122.8 302.2 1120.5 303.3 1117.3C304.4 1114.1 303.7 1110.2 304.1 1106.2C304.5 1102.2 304.9 1098.3 305.7 1093.5C306.5 1088.7 307.6 1082.9 308.9 1077.6C310.2 1072.3 312.1 1065.7 313.7 1061.7C315.3 1057.7 317.6 1055.1 318.4 1053.8C321.1 1054 326.1 1054.4 334.4 1054.7C342.7 1055 358.2 1056 368.4 1055.8C378.6 1055.6 388.1 1054.5 395.6 1053.5C403.2 1052.5 406.9 1051.2 413.7 1050.1C420.5 1049 428.7 1046.5 436.4 1046.7C444.1 1046.9 453.4 1050.2 460 1051.4C466.6 1052.6 470.6 1053.3 475.9 1053.8C481.2 1054.3 486.4 1054.3 491.7 1054.6C497 1054.9 505 1055.3 507.6 1055.4C508.1 1056.5 509.2 1058.3 510.8 1061.7C512.4 1065.1 515.5 1069.4 517.1 1076C518.7 1082.6 519.2 1092.7 520.3 1101.4C521.4 1110.1 522.7 1121.2 523.5 1128.4C524.3 1135.6 524.4 1140.9 525.1 1144.3C525.8 1147.7 526.6 1149 527.5 1149C528.4 1149 529.9 1147.2 530.6 1144.3C531.3 1141.4 531.8 1137.4 531.7 1131.6C531.6 1125.8 530.1 1117.1 529.8 1109.4C529.5 1101.7 529.4 1093 529.8 1085.6C530.2 1078.2 531.1 1070.2 532.2 1064.9C533.3 1059.6 535.5 1055.7 536.2 1053.8C539.4 1053 548.1 1050.3 555.2 1049C562.3 1047.7 571.5 1046.8 579 1045.9C586.5 1045 594 1044.3 600 1043.5C606 1042.7 608.7 1041 615 1041C621.3 1041 630.1 1042.1 637.7 1043.3C645.3 1044.5 652.9 1046 660.4 1047.9C667.9 1049.8 677 1052.4 683 1054.7C689 1057 693 1058.9 696.6 1061.5C700.2 1064.1 702.5 1066.7 704.6 1070.5C706.7 1074.3 707.8 1079.4 709.1 1084.1C710.4 1088.8 711.9 1096.4 712.5 1098.9C713.1 1096.8 714.6 1092.3 715.9 1086.4C717.2 1080.5 718.9 1069.6 720.4 1063.7C721.9 1057.8 724.2 1053.4 725 1051.3C729.3 1051.3 741.3 1050.9 751 1051.3C760.7 1051.7 777.7 1053.1 783 1053.5" fill="none" stroke="#161616" stroke-width="2.9" stroke-linejoin="round" stroke-linecap="round"/>
<g fill="#fefefe" stroke="#161616" stroke-width="2.9" stroke-linejoin="round">
<path d="M134.4 748.8C134.6 747.3 137.6 745.6 139.6 745.4C141.6 745.2 144.7 746.4 146.4 747.7C148.1 749 150 751.8 149.8 753.3C149.6 754.9 147.2 756.6 145.3 756.7C143.4 756.9 140.3 755.8 138.5 754.5C136.7 753.2 134.2 750.3 134.4 748.8Z"/>
<path d="M203.1 763.5C203.5 761.1 206.7 757.3 208.8 755.6C210.9 753.9 213.9 752.8 215.6 753.3C217.3 753.9 218.8 756.2 219 759C219.2 761.8 217.7 767.6 216.7 770.4C215.8 773.1 215 775.3 213.3 775.3C211.6 775.3 208.2 772.3 206.5 770.4C204.8 768.4 202.7 766 203.1 763.5Z"/>
<path d="M156.6 804.4C157 801.5 160 795.9 162.3 794.2C164.6 792.5 166.6 792.8 170.2 794.2C173.8 795.5 179.9 799.1 183.8 802.1C187.8 805.1 192.9 809.7 194 812.3C195.2 814.9 193.9 816.7 190.6 818C187.4 819.2 178.9 819.8 174.8 819.8C170.6 819.8 168.2 819.4 165.7 818C163.2 816.5 161.5 813.4 160 811.2C158.5 808.9 156.3 807.2 156.6 804.4Z"/>
<path d="M92 818C92.4 815.3 97.5 812 102.2 810C106.9 808.1 115.4 806.2 120.4 806.2C125.3 806.2 129.2 807.7 131.7 810C134.1 812.4 134.3 815.9 135.1 820.2C135.8 824.6 136.8 832.1 136.2 836.1C135.7 840.1 134 842.2 131.7 844C129.4 845.9 125.8 848.4 122.6 847.4C119.4 846.5 116.2 842 112.4 838.4C108.6 834.8 103.3 829.3 99.9 825.9C96.5 822.5 91.6 820.6 92 818Z"/>
<path d="M148.7 836.1C149.1 834.2 151.9 831.5 154.4 830.4C156.8 829.4 159.7 828.8 163.4 829.8C167.2 830.7 173.6 833.9 177 836.1C180.4 838.3 183.1 840.5 183.8 842.9C184.6 845.4 183.3 849 181.6 850.9C179.9 852.7 176.9 854.2 173.6 853.8C170.4 853.4 165.9 850.6 162.3 848.6C158.7 846.6 154.4 843.9 152.1 841.8C149.8 839.7 148.3 838 148.7 836.1Z"/>
<path d="M216.7 833.8C217.1 830.8 219.9 824.6 222.4 820.2C224.8 815.9 228.4 809.7 231.5 807.8C234.5 805.8 236.4 806.7 240.5 808.4C244.7 810.1 252.4 815.1 256.4 818C260.4 820.9 263.4 823.3 264.3 825.9C265.3 828.6 263.8 831.4 262.1 833.8C260.4 836.3 257 839.1 254.1 840.6C251.3 842.2 248.8 843 245.1 842.9C241.3 842.8 235.6 840.9 231.5 840.2C227.3 839.4 222.6 839.4 220.1 838.4C217.7 837.3 216.3 836.9 216.7 833.8Z"/>
<path d="M84.1 864.5C84.6 862.2 87.8 859.3 90.9 857.7C93.9 856 98.6 854.7 102.2 854.7C105.8 854.7 110.2 856 112.4 857.7C114.6 859.3 115.7 862.4 115.4 864.5C115 866.5 113.3 868.4 110.1 870.1C107 871.8 100.3 874.5 96.5 874.7C92.8 874.8 89.6 873 87.5 871.3C85.4 869.6 83.5 866.7 84.1 864.5Z"/>
<path d="M173.6 865.6C174.2 864.1 176.1 861.6 178.2 861.1C180.3 860.5 183.8 861.2 186.1 862.2C188.4 863.1 191.6 865.2 191.8 866.7C192 868.2 189.3 870.1 187.2 871.3C185.2 872.4 181.4 873.7 179.3 873.5C177.2 873.3 175.7 871.4 174.8 870.1C173.8 868.8 173.1 867.1 173.6 865.6Z"/>
<path d="M198.6 874.7C199 871.4 201.8 869 205.4 866.7C209 864.5 215.4 862.4 220.1 861.1C224.8 859.7 230 858.6 233.7 858.8C237.5 859 241.1 859.9 242.8 862.2C244.5 864.5 244.9 868.8 243.9 872.4C243 876 240 880.3 237.1 883.7C234.3 887.1 230.5 891.5 226.9 892.8C223.3 894.1 219.6 892.8 215.6 891.7C211.6 890.5 206 888.8 203.1 886C200.3 883.2 198.2 877.9 198.6 874.7Z"/>
<path d="M162.3 881.5C162.9 878.7 167 877 169.1 876.5C171.2 875.9 172.7 876.3 174.8 878.1C176.9 879.8 178.4 885.1 181.6 887.1C184.8 889.2 191.6 889 194 890.5C196.5 892 196.9 893.6 196.3 896.2C195.7 898.8 192.3 903.6 190.6 906.4C188.9 909.2 187.2 910.9 186.1 913.2C185 915.5 185.4 919.4 183.8 920C182.3 920.6 179.3 919.3 177 916.6C174.8 914 172.1 908.1 170.2 904.1C168.3 900.2 167 896.6 165.7 892.8C164.4 889 161.7 884.2 162.3 881.5Z"/>
<path d="M195.2 913.2C196.3 911.3 199 907.9 202 906.4C205 904.9 209.5 904.1 213.3 904.1C217.1 904.1 221.9 905.2 224.7 906.4C227.5 907.5 229.8 909.2 230.3 911C230.9 912.8 231.2 915.2 228 917C224.8 918.8 215.9 921 211 922C206.1 923 201.2 923.8 198.6 923.1C196 922.4 196.1 919.6 195.5 918C194.9 916.4 194.1 915.1 195.2 913.2Z"/>
<path d="M239.4 904.1C238.7 900.4 241.7 895.4 243 892C244.3 888.6 245.1 886.6 247.3 883.7C249.5 880.8 251.8 876.9 256.4 874.7C261 872.5 268.8 871.8 275 870.5C281.2 869.2 287.9 868.1 293.5 866.7C299.1 865.3 303.4 862.2 308.3 862.2C313.2 862.2 317.9 864.8 323 866.7C328.1 868.6 334.2 871 338.9 873.5C343.6 876 349.3 879 351.4 881.5C353.5 884 352.5 885.7 351.4 888.3C350.3 890.9 347.1 894.2 344.6 897.3C342.1 900.4 340.2 904.4 336.6 907C333 909.6 328.3 911.2 323 913C317.7 914.8 312.4 916.2 304.9 917.5C297.3 918.8 283.9 920.1 277.7 921C271.5 921.9 271.2 923.1 267.7 923.1C264.1 923.1 259.8 922.4 256.4 920.9C253 919.4 250.1 916.9 247.3 914.1C244.5 911.3 240.1 907.8 239.4 904.1Z"/>
<path d="M279.9 772.6C279.9 769.4 284.5 764.9 289 761.3C293.5 757.7 302.2 753 307.2 751.1C312.1 749.1 314.9 748.5 318.5 749.5C322.1 750.4 325.9 752.9 328.7 756.7C331.5 760.6 333.2 766.2 335.5 772.6C337.8 779 340 788.7 342.3 795.3C344.6 801.9 348.5 808.3 349.1 812.3C349.7 816.3 347.6 817.9 345.7 819.1C343.8 820.4 341.5 821.5 337.8 819.8C334 818.1 328.5 813.4 323 808.9C317.5 804.4 310.6 797.8 304.9 793C299.2 788.3 293.2 784 289 780.6C284.9 777.2 279.9 775.8 279.9 772.6Z"/>
<path d="M358.2 773.8C359.2 770.2 363.3 766.2 366.1 763.5C368.9 760.9 372.3 758.6 375.2 757.9C378 757.1 381.3 757.5 383.1 759C384.9 760.5 386.4 764.1 386.1 767C385.7 769.8 382.9 773.4 380.9 776C378.8 778.7 375.6 780.7 374 782.8C372.5 784.9 373.1 787.2 371.8 788.5C370.5 789.7 368.1 790.9 366.1 790.3C364.1 789.7 361.1 787.8 359.8 785.1C358.4 782.3 357.1 777.3 358.2 773.8Z"/>
<path d="M281.1 802.1C280.9 800.2 283.3 799.1 285.6 798.7C287.9 798.3 291.8 799.1 294.7 799.8C297.6 800.6 301.4 801.2 303.1 803.2C304.7 805.3 304.7 809.8 304.4 812.3C304.2 814.8 303.1 817.4 301.5 818C299.9 818.5 297.1 817 294.7 815.7C292.2 814.4 289 812.3 286.7 810C284.5 807.8 281.3 804 281.1 802.1Z"/>
<path d="M372.9 819.1C373.1 816.6 375.9 813.5 378.6 812.3C381.2 811.1 385.8 810.9 388.8 811.6C391.8 812.4 395 814.5 396.7 816.8C398.4 819.2 399.4 823.5 399 825.9C398.6 828.4 396.7 830.8 394.5 831.6C392.2 832.3 388.2 831.2 385.4 830.4C382.6 829.7 379.5 828.9 377.4 827C375.4 825.2 372.7 821.6 372.9 819.1Z"/>
<path d="M421.7 815.7C423.2 813.8 425.2 814.9 426.2 816.8C427.2 818.7 427.2 823.5 427.8 827C428.4 830.6 429.9 835.4 429.6 838.4C429.3 841.4 427.7 844.4 426.2 845.2C424.7 845.9 422.3 844.4 420.5 842.9C418.8 841.4 416.1 838.6 415.5 836.1C415 833.7 416.1 831.6 417.1 828.2C418.2 824.8 420.2 817.6 421.7 815.7Z"/>
<path d="M309 849.3C309.5 847.8 312.6 845.2 315.1 844.7C317.6 844.2 321.7 845.3 324.2 846.3C326.6 847.3 329.3 849.5 329.8 850.9C330.4 852.2 329.5 853.9 327.6 854.7C325.7 855.5 321.1 855.5 318.5 855.4C315.8 855.2 313.3 854.8 311.7 853.8C310.1 852.8 308.4 850.8 309 849.3Z"/>
<path d="M257.3 857.7C257.5 856 259 854.1 261.8 853.1C264.6 852.2 271.4 851.4 274.3 852C277.1 852.6 278.4 854.6 278.8 856.5C279.2 858.4 278.4 861.9 276.5 863.3C274.7 864.8 270.1 865.1 267.5 865.1C264.8 865.1 262.4 864.6 260.7 863.3C259 862.1 257.1 859.4 257.3 857.7Z"/>
<path d="M341.2 863.3C340.8 860.9 343.1 857.8 345.7 855.4C348.3 852.9 352.9 850.5 357 848.6C361.2 846.7 365.4 844.6 370.6 844C375.9 843.5 383.9 844.6 388.8 845.2C393.7 845.7 397.6 845.9 400.1 847.4C402.7 849 404.2 852 404.2 854.3C404.2 856.5 403.8 859 400.1 861.1C396.4 863.1 388.4 865.2 382 866.7C375.6 868.2 367.2 869.6 361.6 870.1C355.9 870.6 351.4 870.8 348 869.7C344.6 868.5 341.5 865.7 341.2 863.3Z"/>
<path d="M354.8 904.1C352.9 901.5 359 896.6 361.6 892.8C364.2 889 366.8 884.7 370.6 881.5C374.4 878.3 379 875.6 384.3 873.5C389.6 871.4 396 870.5 402.4 869C408.8 867.5 416 865.6 422.8 864.5C429.6 863.4 438.2 862.5 443.2 862.2C448.2 862 450.2 862.2 453 863C455.8 863.8 458.2 865 459.9 866.7C461.6 868.5 463.5 871 463.3 873.5C463.1 876 461.6 879.4 458.8 881.5C456 883.6 450.8 884.1 446.3 886C441.8 887.9 437.3 889.8 431.9 892.8C426.5 895.8 419.8 901.1 413.7 904.1C407.6 907.1 402.4 910.1 395.6 910.9C388.8 911.7 379.7 909.8 372.9 908.7C366.1 907.6 356.7 906.8 354.8 904.1Z"/>
<path d="M431.8 784.4C432.2 783 435.2 780.7 437.3 779.4C439.3 778.1 441 776.3 444.1 776.7C447.1 777.1 452.2 779.3 455.4 781.7C458.6 784 461.8 787.9 463.3 790.8C464.9 793.6 465.2 796.4 464.5 798.7C463.7 801 461.1 804.6 458.8 804.8C456.5 805 453.7 802 450.9 799.8C448 797.7 444.4 793.9 441.8 791.9C439.2 789.9 436.7 789.3 435 788C433.3 786.8 431.4 785.8 431.8 784.4Z"/>
<path d="M462.2 745.4C462.4 743.7 465.2 742.7 469 742C472.8 741.3 480.7 740.9 484.9 741.3C489.1 741.7 493.3 742.6 494.4 744.3C495.5 745.9 493.5 748.6 491.7 751.1C489.9 753.5 486.4 757.7 483.8 759C481.1 760.3 478.5 760.1 475.8 759C473.2 757.9 470.1 754.5 467.9 752.2C465.6 749.9 462 747.1 462.2 745.4Z"/>
<path d="M573.3 752.2C573.6 750.7 575.2 747 576.7 745.4C578.2 743.8 578.8 743.4 582.4 742.7C586 742 593 741.6 598.3 741.3C603.5 741 610.7 740.2 613.7 740.9C616.7 741.6 616.1 743.6 616.4 745.4C616.7 747.2 616.8 750.1 615.3 751.8C613.8 753.5 610.5 754.5 607.3 755.6C604.1 756.7 600.2 758.3 596 758.3C591.8 758.3 585.9 756.3 582.4 755.6C578.9 755 576.6 755 575.1 754.5C573.6 753.9 573.1 753.7 573.3 752.2Z"/>
<path d="M511 787.4C511.5 785.1 513.8 779.9 515.5 778.3C517.2 776.7 519.7 776.7 521.2 777.6C522.7 778.6 524.4 781.8 524.6 784C524.8 786.1 523.6 789.2 522.3 790.8C521 792.3 518.3 793.3 516.6 793.5C515 793.7 513.5 792.9 512.6 791.9C511.6 790.9 510.5 789.6 511 787.4Z"/>
<path d="M538.2 790.8C538 787.4 540.3 785.7 542.7 784C545.2 782.3 548.9 781.3 552.9 780.6C556.9 779.8 561.6 779 566.5 779.4C571.4 779.8 577.5 781.1 582.4 782.8C587.3 784.5 592.2 786.8 596 789.6C599.8 792.5 603.7 797 605.1 799.8C606.4 802.7 605.4 804.7 603.9 806.6C602.4 808.5 598.8 808.9 596 811.2C593.2 813.4 590.3 816.8 586.9 820.2C583.5 823.6 579.4 828.2 575.6 831.6C571.8 835 567.1 839.9 564.3 840.6C561.4 841.4 560.5 838.8 558.6 836.1C556.7 833.5 554.2 828.2 552.9 824.8C551.6 821.4 552.2 819.1 550.6 815.7C549.1 812.3 545.9 808.5 543.8 804.4C541.8 800.2 538.4 794.2 538.2 790.8Z"/>
<path d="M517.1 825.9C517.8 825 520.1 825.9 522.3 827C524.5 828.2 528.5 830.8 530.2 832.7C531.9 834.6 533.1 836.9 532.5 838.4C531.9 839.9 528.9 841.4 526.8 841.8C524.8 842.2 521.5 842.2 520 840.6C518.5 839.1 518.3 835.2 517.8 832.7C517.3 830.3 516.3 826.9 517.1 825.9Z"/>
<path d="M465.6 852C465.8 850.1 468.4 846.8 471.3 845.2C474.1 843.6 479.4 842.5 482.6 842.5C485.8 842.5 489.4 843.6 490.6 845.2C491.7 846.8 491.1 850.1 489.4 852C487.7 853.9 483.6 855.8 480.4 856.5C477.1 857.3 472.6 857.3 470.1 856.5C467.7 855.8 465.4 853.9 465.6 852Z"/>
<path d="M585.8 856.5C586.5 854.7 589 851.4 591.5 849.7C593.9 848 596.9 846.8 600.5 846.3C604.1 845.9 611.1 845.9 613 847C614.9 848.1 613 851 611.9 853.1C610.7 855.3 609.2 858.4 606.2 859.9C603.2 861.4 596.9 862.1 593.7 862.2C590.6 862.3 588.7 861.5 587.4 860.6C586.1 859.7 585.1 858.3 585.8 856.5Z"/>
<path d="M474.7 870.1C475.2 867.9 477.1 864.5 480.4 862.2C483.6 859.9 488.7 858 494 856.5C499.2 855 506.1 853.9 512.1 853.1C518.1 852.4 525.5 851.6 530.2 852C535 852.4 538.7 853.7 540.4 855.4C542.1 857.1 541.8 859.7 540.4 862.2C539.1 864.6 536.1 867.7 532.5 870.1C528.9 872.6 522.7 874.5 518.9 876.9C515.1 879.4 512.9 883.2 509.8 884.9C506.8 886.6 504.5 887.7 500.8 887.1C497 886.6 491.1 883.4 487.2 881.5C483.2 879.6 479 877.7 477 875.8C474.9 873.9 474.1 872.4 474.7 870.1Z"/>
<path d="M518.9 906.4C519.3 902.5 518.5 896.9 520 892.8C521.5 888.6 524.4 884.7 528 881.5C531.6 878.3 535.9 875.4 541.6 873.5C547.3 871.6 554.1 870.7 562 870.1C569.9 869.5 581.3 870.3 589.2 870.1C597.1 869.9 604.3 869.4 609.6 869C614.9 868.6 618 866.9 620.9 867.9C623.8 868.9 626.2 870.6 627.3 874.7C628.4 878.9 628.4 888.1 627.7 892.8C627 897.5 625.5 900 623.2 903C620.9 906 617.5 907.9 614.1 910.5C610.7 913.1 606.9 915.7 602.8 918.6C598.6 921.5 593.7 925.8 589.2 927.7C584.7 929.6 580.9 929.7 575.6 929.9C570.3 930.1 563.8 929.5 557.4 928.8C551 928 542.7 926.5 537 925.4C531.3 924.3 526.6 923.5 523.4 922C520.2 920.5 518.5 918.9 517.8 916.3C517 913.7 518.5 910.3 518.9 906.4Z"/>
<path d="M428.5 914C428.2 911.7 429.7 909 431 907C432.3 905 434.2 903.8 436.4 902C438.6 900.2 440.6 897.9 444.1 896.2C447.7 894.5 452.4 892.5 457.7 891.7C463 891 469.8 891.1 475.8 891.7C481.9 892.3 489.1 893.4 494 895.1C498.9 896.8 502.7 899.4 505.3 901.9C507.9 904.4 509.4 907.2 509.8 910C510.2 912.8 509.1 915.5 507.6 918.6C506.1 921.7 503.5 927 500.8 928.8C498.1 930.6 496.2 929.9 491.7 929.5C487.1 929.1 479.9 926.6 473.5 926.5C467.1 926.4 458.7 928.9 453.1 928.8C447.5 928.7 443.4 927.3 440 926C436.6 924.7 434.9 923 433 921C431.1 919 428.8 916.3 428.5 914Z"/>
<path d="M650.1 761.3C650.1 758.5 653 753.5 655.8 751.1C658.7 748.6 663.2 747.1 667.2 746.5C671.1 746 677.1 746.2 679.6 747.7C682.2 749.2 682.8 753 682.6 755.6C682.4 758.3 680.7 761.5 678.5 763.5C676.3 765.6 673.2 767.4 669.4 768.1C665.6 768.8 659 768.8 655.8 767.6C652.6 766.5 650.1 764 650.1 761.3Z"/>
<path d="M751.1 761.3C751.4 758.6 752.9 758.8 755.6 757.9C758.2 756.9 764.1 755.4 766.9 755.6C769.8 755.8 771.8 756.7 772.6 759C773.4 761.3 772.8 766 771.5 769.2C770.1 772.4 766.9 776.3 764.7 778.3C762.4 780.3 759.7 782 757.9 781.2C756 780.5 754.5 777.1 753.3 773.8C752.2 770.4 750.7 763.9 751.1 761.3Z"/>
<path d="M677.4 811.2C676.2 808.1 682.5 801.7 685.3 797.6C688.1 793.4 691.5 788.9 694.4 786.2C697.2 783.6 700.2 781.7 702.3 781.7C704.4 781.7 704.8 784.9 706.8 786.2C708.9 787.5 712.5 787.7 714.8 789.6C717 791.5 719.3 794.7 720.4 797.6C721.6 800.4 722.1 803.8 721.6 806.6C721 809.5 719.3 812.7 717 814.6C714.8 816.5 712.1 817.8 708 818C703.8 818.2 697.2 816.8 692.1 815.7C687 814.6 678.5 814.2 677.4 811.2Z"/>
<path d="M619.5 821.4C619.9 818.7 624.6 816.3 628.6 814.6C632.6 812.8 640.3 810.5 643.3 810.7C646.4 810.9 646.7 813 646.7 815.7C646.7 818.4 644.3 823.6 643.3 827C642.4 830.4 642.4 834.6 641.1 836.1C639.8 837.6 637.9 837.1 635.4 836.1C633 835.2 629 832.9 626.3 830.4C623.7 828 619.2 824 619.5 821.4Z"/>
<path d="M747.7 814.6C748 812.8 751.1 810 753.3 809.4C755.6 808.7 759.1 809.7 761.3 810.7C763.5 811.8 766.3 813.7 766.5 815.7C766.7 817.7 764 821 762.4 822.5C760.8 824 758.6 825.2 756.7 824.8C754.8 824.4 752.6 821.9 751.1 820.2C749.5 818.5 747.3 816.4 747.7 814.6Z"/>
<path d="M674 845.2C674.4 843.4 676.6 839.8 678.5 838.8C680.4 837.9 683.6 838.6 685.3 839.5C687 840.4 688.4 842.3 688.7 844C689 845.7 688.4 848.6 687.1 849.7C685.8 850.9 682.6 850.9 680.8 850.9C678.9 850.8 676.9 850.2 675.8 849.3C674.6 848.3 673.5 846.9 674 845.2Z"/>
<path d="M678.5 863.3C679.1 859.7 682.6 855.6 685.3 853.1C687.9 850.7 691 850.5 694.4 848.6C697.8 846.7 701.9 843.1 705.7 841.8C709.5 840.5 712.5 840.3 717 840.6C721.6 841 728.4 842.2 732.9 844C737.4 845.9 741.2 848.4 744.3 852C747.3 855.6 749.7 861.1 751.1 865.6C752.4 870.1 752.9 875.4 752.2 879.2C751.4 883 749.4 886.2 746.5 888.3C743.7 890.3 740.1 891.9 735.2 891.7C730.3 891.5 722.7 887.3 717 887.1C711.4 886.9 705.7 890.9 701.2 890.5C696.6 890.2 693 887.5 689.8 884.9C686.6 882.2 683.8 878.3 681.9 874.7C680 871.1 677.9 866.9 678.5 863.3Z"/>
<path d="M637.7 865.6C637.7 859.9 637.7 859.5 638.8 857.7C639.9 855.8 641.5 853.9 644.5 854.3C647.5 854.6 653 857.5 657 859.9C660.9 862.4 665.5 865.4 668.3 869C671 872.6 672.7 877.3 673.5 881.5C674.3 885.6 674.6 891.3 672.8 893.9C671 896.6 666.8 896.6 662.6 897.3C658.5 898.1 651.8 899.4 647.9 898.5C643.9 897.5 640.5 897.1 638.8 891.7C637.1 886.2 637.7 871.3 637.7 865.6Z"/>
<path d="M681.9 899.6C682.3 898.1 683.8 895.3 685.3 895.1C686.8 894.9 689.5 897 691 898.5C692.5 900 694.2 902.2 694.4 904.1C694.6 906 693.4 909.2 692.1 909.8C690.8 910.4 687.9 908.5 686.4 907.5C684.9 906.6 683.8 905.5 683 904.1C682.3 902.8 681.5 901.1 681.9 899.6Z"/>
<path d="M703.4 908.7C703.8 906.5 705.7 902.6 708 900.7C710.3 898.8 713.6 897.7 717 897.3C720.4 896.9 724.6 897 728.4 898.5C732.2 900 735.2 903.9 739.7 906.4C744.2 908.9 751.1 911.3 755.6 913.2C760.1 915.1 765.1 916.2 767 918C768.9 919.8 768.9 921.8 767 924C765.1 926.2 760.1 929.7 755.6 931.1C751.1 932.5 745 932.4 739.7 932.2C734.4 932 728.3 931.2 723.8 929.9C719.3 928.6 715.5 926.9 712.5 924.3C709.5 921.7 707.2 916.7 705.7 914.1C704.2 911.5 703 910.9 703.4 908.7Z"/>
<path d="M180.4 935.6C181 934.1 183.3 933 188.4 932.2C193.5 931.5 202.7 931.1 211.1 931.1C219.4 931.1 231.1 931.6 238.3 932.2C245.4 932.8 251.3 933.3 254.1 934.5C257 935.6 256.4 937.5 255.3 939C254.1 940.5 251.7 942.5 247.3 943.5C243 944.6 234.5 944.6 229.2 945.4C223.9 946.1 219.4 947.3 215.6 948.1C211.8 948.9 209.9 950.7 206.5 950.4C203.1 950 198.8 947.3 195.2 945.8C191.6 944.3 187.4 943 185 941.3C182.5 939.6 179.9 937.1 180.4 935.6Z"/>
<path d="M192.9 982.1C193.7 977.8 196.3 973.6 198.6 969.6C200.9 965.6 202.5 960.9 206.5 958.3C210.5 955.7 215.6 954.9 222.4 953.8C229.2 952.7 240 951.5 247.3 951.5C254.6 951.5 261.6 952.1 266.3 953.8C271 955.5 273.3 958.1 275.4 961.7C277.5 965.3 277.3 970.8 278.8 975.3C280.3 979.8 283.4 984 284.5 988.9C285.6 993.8 285.8 999.1 285.6 1004.8C285.4 1010.5 284.6 1018.2 283.3 1022.9C282 1027.6 280.5 1030.8 277.7 1033.1C274.9 1035.4 270.2 1035.4 266.3 1036.5C262.4 1037.6 258 1038.6 254.1 1039.9C250.2 1041.2 246.6 1044.3 242.8 1044.3C239 1044.3 236 1041.8 231.5 1039.9C227 1038 220.1 1035.5 215.6 1033.1C211.1 1030.6 207.1 1028.4 204.3 1025.2C201.5 1022 200.3 1018.7 198.6 1013.8C196.9 1008.9 194.9 1001 194 995.7C193.1 990.4 192.1 986.5 192.9 982.1Z"/>
<path d="M281.1 949.2C280.7 946.8 282 943 283.3 940.1C284.7 937.3 286.7 933.8 289 932.2C291.3 930.6 294.9 929.8 297 930.4C299 931 300.9 933.2 301.5 935.6C302.1 938 301.5 942 300.4 944.7C299.2 947.3 297.1 949.9 294.7 951.5C292.2 953.1 287.9 954.8 285.6 954.4C283.3 954.1 281.5 951.6 281.1 949.2Z"/>
<path d="M314 941.3C313.4 938.1 314.7 933.2 317.4 929.9C320 926.7 325.1 924.3 329.8 922C334.6 919.7 341.5 917.6 345.7 916.3C349.9 915.1 351.7 914 354.8 914.5C357.8 915.1 361.4 917.5 363.8 919.7C366.3 921.9 369.5 925.2 369.5 927.7C369.5 930.1 366.3 932.2 363.8 934.5C361.4 936.7 357.8 939.6 354.8 941.3C351.7 943 349.5 943.4 345.7 944.7C341.9 946 336.3 948.5 332.1 949.2C327.9 950 323.8 950.5 320.8 949.2C317.7 947.9 314.5 944.5 314 941.3Z"/>
<path d="M375.2 929.9C375 927.2 375.7 921.8 377.4 919.7C379.1 917.7 382.9 917.5 385.4 917.5C387.8 917.5 391.2 917.7 392.2 919.7C393.1 921.8 391.8 927.2 391.1 929.9C390.3 932.7 389.7 935.2 387.7 936.3C385.6 937.4 380.7 937.4 378.6 936.3C376.5 935.2 375.4 932.7 375.2 929.9Z"/>
<path d="M401.3 929.9C401.4 927.5 402.6 923.1 404.7 920.9C406.7 918.6 410.9 916.7 413.7 916.3C416.6 916 420 916.9 421.7 918.6C423.4 920.3 424.3 923.9 423.9 926.5C423.6 929.2 421.5 932.6 419.4 934.5C417.3 936.4 414.1 937.7 411.5 937.9C408.8 938.1 405.2 936.9 403.5 935.6C401.8 934.3 401.1 932.4 401.3 929.9Z"/>
<path d="M289 973C288.8 970.6 289 967.2 291.3 965.1C293.5 963 298.1 961.5 302.6 960.6C307.2 959.6 314.1 959.2 318.5 959.4C322.8 959.6 327.2 959.4 328.7 961.7C330.2 964 328.5 969.4 327.6 973C326.6 976.6 325.7 980.8 323 983.2C320.4 985.7 314.7 986.3 311.7 987.8C308.7 989.3 307 992.7 304.9 992.3C302.8 991.9 301.3 987.6 299.2 985.5C297.1 983.4 294.1 981.9 292.4 979.8C290.7 977.8 289.2 975.5 289 973Z"/>
<path d="M299.2 1016.1C299.8 1012.7 300.9 1008 303.8 1004.8C306.6 1001.6 311.9 999.5 316.2 996.8C320.6 994.2 326.1 992.5 329.8 988.9C333.6 985.3 336.3 980.2 338.9 975.3C341.5 970.4 343.1 963.6 345.7 959.4C348.3 955.3 350.2 952.2 354.8 950.4C359.3 948.5 366.1 948.5 372.9 948.1C379.7 947.7 388.8 947.7 395.6 948.1C402.4 948.5 408.8 948.8 413.7 950.4C418.6 951.9 421.9 953.8 425.1 957.2C428.3 960.6 430.7 965.5 433 970.8C435.3 976.1 437.5 982.9 438.7 988.9C439.8 994.9 440.2 1001 439.8 1007C439.4 1013.1 437.7 1021 436.4 1025.2C435.1 1029.3 435.7 1029.7 431.9 1032C428.1 1034.3 420.5 1036.7 413.7 1038.8C406.9 1040.9 398.6 1043.1 391.1 1044.5C383.5 1045.8 374.8 1046.5 368.4 1046.7C362 1046.9 357 1046.5 352.5 1045.6C348 1044.6 346.1 1042.2 341.2 1041.1C336.3 1039.9 328.7 1040.3 323 1038.8C317.4 1037.3 310.9 1034.3 307.2 1032C303.4 1029.7 301.7 1027.8 300.4 1025.2C299 1022.5 298.7 1019.5 299.2 1016.1Z"/>
<path d="M439.5 954.9C439.9 951.3 440.7 947.3 442.9 944.7C445.2 942 447.7 940.1 453.1 939C458.6 937.9 468.6 938 475.8 937.9C483 937.8 491.3 937.4 496.2 938.6C501.1 939.7 502.6 941.6 505.3 944.7C507.9 947.8 510.2 952.8 512.1 957.2C514 961.5 515.3 967.4 516.6 970.8C518 974.2 517.8 975.3 520 977.6C522.3 979.8 526.6 981.3 530.2 984.4C533.8 987.4 537.8 991.9 541.6 995.7C545.4 999.5 549.9 1003.3 552.9 1007C555.9 1010.8 559 1014.8 559.7 1018.4C560.5 1022 559 1025.6 557.4 1028.6C555.9 1031.6 554 1034.8 550.6 1036.5C547.2 1038.2 542 1037.7 537 1038.8C532.1 1039.9 525.7 1042.2 521.2 1043.3C516.6 1044.5 514.7 1045.6 509.8 1045.6C504.9 1045.6 497.4 1043.9 491.7 1043.3C486 1042.8 481.1 1042.9 475.8 1042.2C470.5 1041.4 464.1 1040.9 459.9 1038.8C455.8 1036.7 452.6 1033.5 450.9 1029.7C449.2 1025.9 449.2 1021 449.7 1016.1C450.3 1011.2 453.1 1004.2 454.3 1000.2C455.4 996.3 457.1 994.6 456.5 992.3C456 990 453 989.1 450.9 986.6C448.8 984.2 445.8 981 444.1 977.6C442.4 974.2 441.4 970 440.7 966.2C439.9 962.4 439.2 958.5 439.5 954.9Z"/>
<path d="M521.2 948.1C520.8 944.7 520.8 943.2 522.3 941.3C523.8 939.4 525.9 937.8 530.2 936.7C534.6 935.6 540.8 935 548.4 934.5C556 934 565.8 933.8 575.6 934C585.4 934.2 598.6 934.8 607.3 935.6C616 936.4 622.3 937.1 627.7 939C633.1 940.9 637.1 943.5 639.9 946.9C642.7 950.3 643.9 955 644.5 959.4C645.1 963.8 644.8 969 643.3 973C641.8 977 638.6 980 635.4 983.2C632.2 986.4 628 990.2 624.1 992.3C620.2 994.4 617.7 995.3 611.9 995.7C606.1 996.1 596 995.4 589.2 994.6C582.4 993.9 576.4 992.7 571.1 991.2C565.8 989.7 562.3 986.8 557.4 985.5C552.5 984.2 546.1 984.9 541.6 983.2C537.1 981.5 533 978.9 530.2 975.3C527.4 971.7 526.1 966.2 524.6 961.7C523.1 957.2 521.6 951.5 521.2 948.1Z"/>
<path d="M577.9 1022.9C577.1 1020.2 578.2 1018.4 580.1 1016.1C582 1013.8 585.4 1010.8 589.2 1009.3C593 1007.8 599 1008.1 602.8 1007C606.6 1005.9 608.5 1003.8 611.9 1002.5C615.3 1001.2 618.5 999.6 623.2 999C627.9 998.4 636.2 997.8 639.9 999.1C643.6 1000.4 644.6 1002.6 645.6 1007C646.6 1011.4 646.6 1020.3 645.6 1025.2C644.6 1030.1 642.2 1033.7 639.9 1036.5C637.6 1039.3 634.3 1041.8 632 1042.2C629.7 1042.6 628.9 1039.8 626.3 1038.8C623.7 1037.8 621.1 1036.9 616.4 1036.5C611.7 1036.1 603.6 1037.2 598.3 1036.5C593 1035.8 588.1 1034.3 584.7 1032C581.3 1029.7 578.7 1025.5 577.9 1022.9Z"/>
<path d="M617.3 922C617.5 919.9 621 916.9 624.1 915.2C627.1 913.5 632.2 912.1 635.4 911.8C638.6 911.5 642.2 911.7 643.3 913.6C644.5 915.5 643 919.7 642.2 923.1C641.5 926.6 640.5 933 638.8 934.5C637.1 936 634.7 933.3 632 932.2C629.4 931.1 625.4 929.4 622.9 927.7C620.5 926 617.1 924.1 617.3 922Z"/>
<path d="M652.4 929.9C652.2 926.2 653 921.8 654.7 918.6C656.4 915.4 659.8 912.7 662.6 910.7C665.5 908.6 669 906.3 671.7 906.1C674.3 905.9 675.8 907.5 678.5 909.5C681.1 911.6 684.2 915.2 687.6 918.6C691 922 696.4 927.1 698.9 929.9C701.4 932.8 702.3 933.3 702.3 935.6C702.3 937.9 701 941.5 698.9 943.5C696.8 945.6 693.2 946.6 689.8 948.1C686.4 949.6 681.7 951.5 678.5 952.6C675.3 953.8 673 955.1 670.6 954.9C668.1 954.7 666.2 953.8 663.8 951.5C661.3 949.2 657.7 944.9 655.8 941.3C653.9 937.7 652.6 933.7 652.4 929.9Z"/>
<path d="M650.1 984.4C650.1 982.4 651.5 979.8 653.5 977.6C655.6 975.3 659.6 973 662.6 970.8C665.6 968.6 669.6 965 671.7 964.4C673.8 963.8 674.9 965.2 675.1 967.4C675.3 969.6 674 974.3 672.8 977.6C671.7 980.8 670 984.4 668.3 986.6C666.6 988.8 665.1 990.3 662.6 990.7C660.2 991.2 655.6 990.4 653.5 989.4C651.5 988.3 650.1 986.3 650.1 984.4Z"/>
<path d="M655.8 1021.8C656.2 1019.1 658.1 1015 660.4 1012.7C662.6 1010.4 666 1008 669.4 1008.2C672.8 1008.4 676.6 1011.2 680.8 1013.8C684.9 1016.5 689.8 1020.6 694.4 1024C698.9 1027.4 704.4 1031.4 708 1034.3C711.6 1037.1 715.2 1038.4 715.9 1041.1C716.7 1043.7 714 1047.7 712.5 1050.1C711 1052.6 709.9 1055.8 706.8 1055.8C703.8 1055.8 699.1 1052.2 694.4 1050.1C689.6 1048 683.4 1045.6 678.5 1043.3C673.6 1041.1 668.3 1039 664.9 1036.5C661.5 1034.1 659.6 1031 658.1 1028.6C656.6 1026.1 655.4 1024.4 655.8 1021.8Z"/>
<path d="M267.6 1057C267.5 1054.9 267.9 1052 269.2 1050.6C270.5 1049.2 272.7 1048.4 275.6 1048.7C278.5 1049 282.7 1051 286.7 1052.2C290.7 1053.5 295.8 1054.6 299.4 1056.2C303 1057.8 307.1 1058.7 308.1 1061.7C309.2 1064.7 306.8 1069.6 305.7 1074.4C304.6 1079.2 303 1085.4 301.7 1090.3C300.4 1095.2 299.4 1101.1 297.8 1103.8C296.2 1106.5 294.1 1106.5 292.2 1106.2C290.3 1105.9 288.7 1104.9 286.7 1102.2C284.7 1099.5 282.4 1094.9 280.3 1090.3C278.2 1085.7 275.7 1078.9 274 1074.4C272.3 1069.9 271.1 1066.2 270 1063.3C268.9 1060.4 267.7 1059.1 267.6 1057Z"/>
<path d="M79.3 882.6C80 882.6 80.2 882.8 83.3 882.6C86.4 882.4 93 882.5 97.7 881.5C102.4 880.5 106.8 878.5 111.3 876.9C115.8 875.3 120.4 873 124.9 871.9C129.4 870.8 134.7 869.6 138.5 870.1C142.3 870.6 145.2 872.1 147.6 874.7C150 877.4 151.3 881.9 153.2 886C155.1 890.1 157.4 895.8 158.9 899.6C160.4 903.4 161.1 906.1 162.3 908.7C163.5 911.3 164.4 912.5 166 915C167.6 917.5 170.7 921.5 172 924C173.3 926.5 173.3 929 173.6 930C173 930.5 173.6 932.2 170 933C166.4 933.8 160.3 934.8 152 934.8C143.7 934.8 131.8 933.2 120.4 933.2C109 933.2 90.2 934.4 83.3 934.6C76.4 934.8 80 934.6 79.3 934.6Z"/>
<path d="M79.3 939.6C80 939.6 76.4 939.9 83.3 939.6C90.2 939.3 109.3 938.1 120.4 937.6C131.5 937.1 142.4 936.3 150 936.9C157.6 937.5 161.2 939 165.7 941.3C170.2 943.5 174 947 177 950.4C180 953.8 182.5 957.9 183.8 961.7C185.1 965.5 185.4 969.2 185 973C184.6 976.8 181.8 980.2 181.6 984.4C181.4 988.6 182.3 993.5 183.8 998C185.3 1002.5 188.9 1007.1 190.6 1011.6C192.3 1016.1 194.4 1021.2 194 1025.2C193.6 1029.2 190.8 1033 188.4 1035.4C186 1037.9 185 1039 179.3 1039.9C173.6 1040.8 164.2 1040.5 154.4 1040.6C144.6 1040.7 132.2 1040.6 120.4 1040.6C108.6 1040.6 90.2 1040.6 83.3 1040.6C76.4 1040.6 80 1040.6 79.3 1040.6Z"/>
<path d="M787 833.4C786.3 833.4 784.8 833.3 783 833.4C781.2 833.5 778.3 833.2 776 833.8C773.7 834.4 771.9 836.8 769.2 837.2C766.6 837.6 762.8 836.1 760.1 836.1C757.5 836.1 754.4 837 753.3 837.2C753.5 838.2 753.4 840 754.5 842.9C755.6 845.8 758.2 849.8 760.1 854.3C762 858.8 765 865.2 765.8 870.1C766.6 875 764.5 878.4 764.7 883.7C764.9 889 765.4 897.7 766.9 901.9C768.4 906.1 771 906.8 773.7 908.7C776.4 910.6 780.8 912.5 783 913.2C785.2 914 786.3 913.2 787 913.2Z"/>
<path d="M787 937.9C786.3 937.9 789 938.1 783 937.9C777 937.7 760.1 936.7 751 936.7C741.9 936.7 734.1 936.4 728.4 937.9C722.7 939.4 720.8 943.5 717 945.8C713.2 948.1 709.9 950.2 705.7 951.5C701.6 952.8 695.5 952.5 692.1 953.8C688.7 955.1 686.8 956.2 685.3 959.4C683.8 962.6 683.6 967 683 973C682.4 979 681.1 990.4 681.9 995.7C682.7 1001 685.1 1001.8 687.6 1004.8C690.1 1007.8 692.8 1010 696.6 1013.8C700.4 1017.6 705.7 1023.8 710.2 1027.4C714.7 1031 718.5 1033.3 723.8 1035.4C729.1 1037.5 735.6 1038.6 742 1039.9C748.4 1041.2 755.6 1042.2 762.4 1043.3C769.2 1044.4 778.9 1046.1 783 1046.7C787.1 1047.3 786.3 1046.7 787 1046.7Z"/>
</g>
</g>
<g fill="none" stroke="#161616" stroke-width="3.0" stroke-linecap="round" stroke-linejoin="round">
<path d="M83.3 1160.6C90.8 1160.1 115.3 1157.9 128.1 1157.8C140.9 1157.7 151.2 1159 160 1160C168.8 1161 175.2 1163.6 181.1 1163.5C187 1163.4 191.7 1158.9 195.4 1159.4C199.2 1159.9 200.9 1162.1 203.6 1166.7C206.3 1171.3 210.3 1177.6 211.7 1187.1C213 1196.6 210.7 1210.4 211.7 1223.9C212.7 1237.4 216.9 1260.7 217.9 1268"/>
<path d="M218.7 1168.8L211.7 1187.1"/>
<path d="M249.5 1161.8C257.8 1162.5 282.8 1165.2 299.5 1165.9C316.2 1166.6 337.1 1166.1 350 1165.9C362.9 1165.7 369.5 1165.4 377 1164.7C384.5 1164 389.2 1162.7 395 1161.5C400.8 1160.3 408.9 1158.4 411.7 1157.8"/>
<path d="M519.3 1162C521.6 1161.4 528.6 1159.4 533 1158.6C537.4 1157.8 541.5 1157 545.7 1157C549.9 1157 553.9 1158.1 558.4 1158.9C562.9 1159.7 570.4 1161.5 572.8 1162"/>
<path d="M604.8 1167.1C611.8 1166.3 632.6 1163.7 646.7 1162.4C660.8 1161.1 674.4 1160 689.5 1159.5C704.6 1159 721.5 1158.5 737.1 1159.5C752.7 1160.5 775.4 1164.7 783 1165.7"/>
<path d="M612.4 1173.8C612.2 1177.6 611.5 1189.3 611 1196.7C610.5 1204.1 608.7 1212.1 609.5 1218.1C610.3 1224 614.3 1228 615.7 1232.4C617.1 1236.8 617.7 1242.3 618.1 1244.3"/>
<path d="M464.8 1271.9C466.1 1270.9 468.8 1266.9 472.9 1265.7C477 1264.5 481.2 1264 489.5 1264.8C497.8 1265.6 509.4 1269.2 522.9 1270.5C536.4 1271.8 554.6 1272.5 570.5 1272.9C586.4 1273.3 604.5 1273.2 618.1 1272.9C631.8 1272.7 646.7 1271.7 652.4 1271.4"/>
<path d="M393.3 1307.1C399.8 1306.1 417.5 1302.8 432.4 1301.4C447.2 1300.1 474.1 1299.4 482.4 1299"/>
</g>
<path d="M82.6 150L83.3 1349.4L783 1349.4L782 153.5" fill="none" stroke="#161616" stroke-width="3.6" stroke-linejoin="round"/>
<text class="b" y="332.3"><tspan x="361.1" font-size="44.5" textLength="27.79" lengthAdjust="spacingAndGlyphs">T</tspan><tspan x="388.92" font-size="41.5" textLength="24.98" lengthAdjust="spacingAndGlyphs">o</tspan><tspan x="415.72" font-size="41.5" textLength="21.66" lengthAdjust="spacingAndGlyphs">p</tspan><tspan x="440.4" font-size="41.5" textLength="15.87" lengthAdjust="spacingAndGlyphs">s</tspan><tspan x="458.05" font-size="41.5" textLength="24.25" lengthAdjust="spacingAndGlyphs">o</tspan><tspan x="483.47" font-size="41.5" textLength="9.85" lengthAdjust="spacingAndGlyphs">i</tspan><tspan x="494.47" font-size="41.5" textLength="9.39" lengthAdjust="spacingAndGlyphs">l</tspan></text>
<text class="b" y="599.9"><tspan x="366.11" font-size="44.5" textLength="20.57" lengthAdjust="spacingAndGlyphs">S</tspan><tspan x="387.63" font-size="41.5" textLength="22.73" lengthAdjust="spacingAndGlyphs">u</tspan><tspan x="411.3" font-size="41.5" textLength="21.99" lengthAdjust="spacingAndGlyphs">b</tspan><tspan x="436.0" font-size="41.5" textLength="15.15" lengthAdjust="spacingAndGlyphs">s</tspan><tspan x="453.15" font-size="41.5" textLength="24.14" lengthAdjust="spacingAndGlyphs">o</tspan><tspan x="478.73" font-size="41.5" textLength="10.0" lengthAdjust="spacingAndGlyphs">i</tspan><tspan x="490.27" font-size="41.5" textLength="8.93" lengthAdjust="spacingAndGlyphs">l</tspan></text>
<text class="b" y="1212.0"><tspan x="352.47" font-size="44.5" textLength="26.01" lengthAdjust="spacingAndGlyphs">B</tspan><tspan x="380.18" font-size="41.5" textLength="21.33" lengthAdjust="spacingAndGlyphs">e</tspan><tspan x="402.44" font-size="41.5" textLength="22.1" lengthAdjust="spacingAndGlyphs">d</tspan><tspan x="426.17" font-size="41.5" textLength="16.82" lengthAdjust="spacingAndGlyphs">r</tspan><tspan x="445.28" font-size="41.5" textLength="23.62" lengthAdjust="spacingAndGlyphs">o</tspan><tspan x="472.06" font-size="41.5" textLength="17.33" lengthAdjust="spacingAndGlyphs">c</tspan><tspan x="491.89" font-size="41.5" textLength="21.89" lengthAdjust="spacingAndGlyphs">k</tspan></text>
<text x="815.75" y="167.57" font-size="33.1" textLength="28.72" lengthAdjust="spacingAndGlyphs">O</text>
<text x="819.8" y="328.7" font-size="34.78" textLength="21.53" lengthAdjust="spacingAndGlyphs">A</text>
<text x="821.05" y="608.7" font-size="35.36" textLength="20.39" lengthAdjust="spacingAndGlyphs">B</text>
<text x="818.84" y="917.06" font-size="34.37" textLength="23.96" lengthAdjust="spacingAndGlyphs">C</text>
</g>
<rect x="0" y="1381" width="882" height="1" fill="#f5f5f5"/>
<rect x="0" y="0" width="1" height="1382" fill="#f4f4f4"/>
</svg></body></html>
